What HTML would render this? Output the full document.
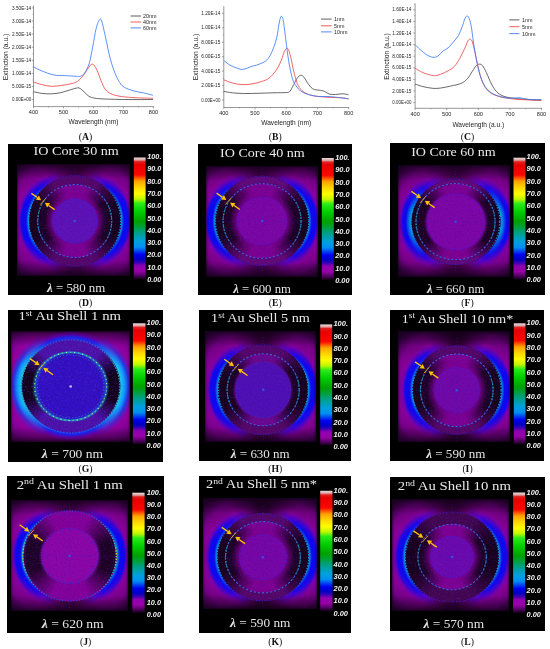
<!DOCTYPE html>
<html lang="en"><head><meta charset="utf-8"><title>Figure</title>
<style>
html,body{margin:0;padding:0;background:#fff}
#fig{position:relative;width:550px;height:649px;overflow:hidden;background:#fff;filter:blur(0.45px)}
.bk{position:absolute;background:#000}
.sq{position:absolute;overflow:hidden;background:#2a0034}
.ct{position:absolute;width:180px;height:180px;transform-origin:50% 50%}
.l{position:absolute;left:0;top:0;width:100%;height:100%}
.tbd{position:absolute;left:0;top:0;right:0;bottom:0;background:linear-gradient(to bottom,rgba(24,0,30,.8) 0,rgba(24,0,30,.45) 5px,rgba(24,0,30,0) 15px,rgba(24,0,30,0) calc(100% - 15px),rgba(24,0,30,.45) calc(100% - 5px),rgba(24,0,30,.8) 100%)}
.vg{position:absolute;left:0;top:0;right:0;bottom:0;box-shadow:inset 0 0 2px 1px rgba(20,0,26,.6)}
svg{position:absolute;left:0;top:0;display:block}
</style>
</head><body>
<div id="fig">
<div class="bk" style="left:7.5px;top:143.6px;width:155.6px;height:151.9px"></div>
<div class="sq" style="left:17.4px;top:164.4px;width:112.5px;height:111.5px">
<div class="ct" style="left:-32.7px;top:-33.4px;transform:scale(1.000,0.985)"><div class="l" style="background:radial-gradient(circle at 50% 50%,#90009f 0px,#90009f 55px,#7a008c 66px,#2a0034 79px);"></div></div>
<div class="tbd"></div>
<div class="ct" style="left:-32.7px;top:-33.4px;transform:scale(1.000,0.985)">
<div class="l" style="background:radial-gradient(circle at 50% 50%,rgba(24,0,32,0) 48px,rgba(24,0,32,0.28) 60px);-webkit-mask-image:conic-gradient(from 0deg at 50% 50%,rgba(0,0,0,1) 0deg,rgba(0,0,0,1) 15deg,rgba(0,0,0,0.5) 38.5deg,rgba(0,0,0,0) 62deg,rgba(0,0,0,0) 118deg,rgba(0,0,0,0.5) 141.5deg,rgba(0,0,0,1) 165deg,rgba(0,0,0,1) 195deg,rgba(0,0,0,0.5) 218.5deg,rgba(0,0,0,0) 242deg,rgba(0,0,0,0) 298deg,rgba(0,0,0,0.5) 321.5deg,rgba(0,0,0,1) 345deg,rgba(0,0,0,1) 360deg);mask-image:conic-gradient(from 0deg at 50% 50%,rgba(0,0,0,1) 0deg,rgba(0,0,0,1) 15deg,rgba(0,0,0,0.5) 38.5deg,rgba(0,0,0,0) 62deg,rgba(0,0,0,0) 118deg,rgba(0,0,0,0.5) 141.5deg,rgba(0,0,0,1) 165deg,rgba(0,0,0,1) 195deg,rgba(0,0,0,0.5) 218.5deg,rgba(0,0,0,0) 242deg,rgba(0,0,0,0) 298deg,rgba(0,0,0,0.5) 321.5deg,rgba(0,0,0,1) 345deg,rgba(0,0,0,1) 360deg);"></div>
<div class="l" style="background:radial-gradient(circle at 50% 50%,rgba(20,0,24,0.54) 44px,rgba(20,0,24,0.68) 54px,rgba(20,0,24,0.68) 76px);-webkit-mask-image:conic-gradient(from 0deg at 50% 50%,rgba(0,0,0,1) 0deg,rgba(0,0,0,1) 5deg,rgba(0,0,0,0.5) 18.5deg,rgba(0,0,0,0) 32deg,rgba(0,0,0,0) 148deg,rgba(0,0,0,0.5) 161.5deg,rgba(0,0,0,1) 175deg,rgba(0,0,0,1) 185deg,rgba(0,0,0,0.5) 198.5deg,rgba(0,0,0,0) 212deg,rgba(0,0,0,0) 328deg,rgba(0,0,0,0.5) 341.5deg,rgba(0,0,0,1) 355deg,rgba(0,0,0,1) 360deg);mask-image:conic-gradient(from 0deg at 50% 50%,rgba(0,0,0,1) 0deg,rgba(0,0,0,1) 5deg,rgba(0,0,0,0.5) 18.5deg,rgba(0,0,0,0) 32deg,rgba(0,0,0,0) 148deg,rgba(0,0,0,0.5) 161.5deg,rgba(0,0,0,1) 175deg,rgba(0,0,0,1) 185deg,rgba(0,0,0,0.5) 198.5deg,rgba(0,0,0,0) 212deg,rgba(0,0,0,0) 328deg,rgba(0,0,0,0.5) 341.5deg,rgba(0,0,0,1) 355deg,rgba(0,0,0,1) 360deg);"></div>
<div class="l" style="background:radial-gradient(circle at 50% 50%,rgba(14,8,238,0) 45px,rgba(14,8,238,0.95) 46.5px,rgba(14,8,238,0.9) 49.6px,rgba(88,0,192,0.35) 52.75px,rgba(88,0,192,0) 55.9px);-webkit-mask-image:conic-gradient(from 90deg at 50% 50%,rgba(0,0,0,1) 0deg,rgba(0,0,0,1) 40deg,rgba(0,0,0,0.5) 57deg,rgba(0,0,0,0) 74deg,rgba(0,0,0,0) 106deg,rgba(0,0,0,0.5) 123deg,rgba(0,0,0,1) 140deg,rgba(0,0,0,1) 220deg,rgba(0,0,0,0.5) 237deg,rgba(0,0,0,0) 254deg,rgba(0,0,0,0) 286deg,rgba(0,0,0,0.5) 303deg,rgba(0,0,0,1) 320deg,rgba(0,0,0,1) 360deg);mask-image:conic-gradient(from 90deg at 50% 50%,rgba(0,0,0,1) 0deg,rgba(0,0,0,1) 40deg,rgba(0,0,0,0.5) 57deg,rgba(0,0,0,0) 74deg,rgba(0,0,0,0) 106deg,rgba(0,0,0,0.5) 123deg,rgba(0,0,0,1) 140deg,rgba(0,0,0,1) 220deg,rgba(0,0,0,0.5) 237deg,rgba(0,0,0,0) 254deg,rgba(0,0,0,0) 286deg,rgba(0,0,0,0.5) 303deg,rgba(0,0,0,1) 320deg,rgba(0,0,0,1) 360deg);"></div>
<div class="l" style="background:radial-gradient(circle at 50% 50%,rgba(14,8,238,0) 45px,#0e08ee 46.5px,#0e08ee 53.2px,rgba(88,0,192,0.45) 56.08px,rgba(88,0,192,0) 59.5px);-webkit-mask-image:conic-gradient(from 90deg at 50% 50%,rgba(0,0,0,1) 0deg,rgba(0,0,0,1) 20deg,rgba(0,0,0,0.5) 39deg,rgba(0,0,0,0) 58deg,rgba(0,0,0,0) 122deg,rgba(0,0,0,0.5) 141deg,rgba(0,0,0,1) 160deg,rgba(0,0,0,1) 200deg,rgba(0,0,0,0.5) 219deg,rgba(0,0,0,0) 238deg,rgba(0,0,0,0) 302deg,rgba(0,0,0,0.5) 321deg,rgba(0,0,0,1) 340deg,rgba(0,0,0,1) 360deg);mask-image:conic-gradient(from 90deg at 50% 50%,rgba(0,0,0,1) 0deg,rgba(0,0,0,1) 20deg,rgba(0,0,0,0.5) 39deg,rgba(0,0,0,0) 58deg,rgba(0,0,0,0) 122deg,rgba(0,0,0,0.5) 141deg,rgba(0,0,0,1) 160deg,rgba(0,0,0,1) 200deg,rgba(0,0,0,0.5) 219deg,rgba(0,0,0,0) 238deg,rgba(0,0,0,0) 302deg,rgba(0,0,0,0.5) 321deg,rgba(0,0,0,1) 340deg,rgba(0,0,0,1) 360deg);"></div>
<div class="l" style="background:radial-gradient(circle at 50% 50%,rgba(0,164,216,0) 45.5px,rgba(0,164,216,0.85) 46.6px,rgba(0,164,216,0.51) 47.6px,rgba(0,164,216,0) 49px);-webkit-mask-image:conic-gradient(from 90deg at 50% 50%,rgba(0,0,0,1) 0deg,rgba(0,0,0,1) 14deg,rgba(0,0,0,0.5) 31deg,rgba(0,0,0,0) 48deg,rgba(0,0,0,0) 132deg,rgba(0,0,0,0.5) 149deg,rgba(0,0,0,1) 166deg,rgba(0,0,0,1) 194deg,rgba(0,0,0,0.5) 211deg,rgba(0,0,0,0) 228deg,rgba(0,0,0,0) 312deg,rgba(0,0,0,0.5) 329deg,rgba(0,0,0,1) 346deg,rgba(0,0,0,1) 360deg);mask-image:conic-gradient(from 90deg at 50% 50%,rgba(0,0,0,1) 0deg,rgba(0,0,0,1) 14deg,rgba(0,0,0,0.5) 31deg,rgba(0,0,0,0) 48deg,rgba(0,0,0,0) 132deg,rgba(0,0,0,0.5) 149deg,rgba(0,0,0,1) 166deg,rgba(0,0,0,1) 194deg,rgba(0,0,0,0.5) 211deg,rgba(0,0,0,0) 228deg,rgba(0,0,0,0) 312deg,rgba(0,0,0,0.5) 329deg,rgba(0,0,0,1) 346deg,rgba(0,0,0,1) 360deg);"></div>
<div class="l" style="background:radial-gradient(circle at 50% 50%,#7c0092 0px,#7c0092 45.5px,rgba(124,0,146,0) 46.5px);"></div>
<div class="l" style="background:radial-gradient(circle at 50% 50%,rgba(38,5,48,0) 36.5px,#260530 37.5px,#260530 45.5px,rgba(38,5,48,0) 46.5px);"></div>
<div class="l" style="background:radial-gradient(circle at 50% 50%,rgba(114,10,140,0) 36.8px,rgba(114,10,140,0.62) 37.8px,rgba(114,10,140,0.62) 45.2px,rgba(114,10,140,0) 46.2px);-webkit-mask-image:conic-gradient(from 0deg at 50% 50%,rgba(0,0,0,1) 0deg,rgba(0,0,0,1) 28deg,rgba(0,0,0,0.5) 50deg,rgba(0,0,0,0) 72deg,rgba(0,0,0,0) 108deg,rgba(0,0,0,0.5) 130deg,rgba(0,0,0,1) 152deg,rgba(0,0,0,1) 208deg,rgba(0,0,0,0.5) 230deg,rgba(0,0,0,0) 252deg,rgba(0,0,0,0) 288deg,rgba(0,0,0,0.5) 310deg,rgba(0,0,0,1) 332deg,rgba(0,0,0,1) 360deg);mask-image:conic-gradient(from 0deg at 50% 50%,rgba(0,0,0,1) 0deg,rgba(0,0,0,1) 28deg,rgba(0,0,0,0.5) 50deg,rgba(0,0,0,0) 72deg,rgba(0,0,0,0) 108deg,rgba(0,0,0,0.5) 130deg,rgba(0,0,0,1) 152deg,rgba(0,0,0,1) 208deg,rgba(0,0,0,0.5) 230deg,rgba(0,0,0,0) 252deg,rgba(0,0,0,0) 288deg,rgba(0,0,0,0.5) 310deg,rgba(0,0,0,1) 332deg,rgba(0,0,0,1) 360deg);"></div>
<div class="l" style="background:radial-gradient(circle at 50% 50%,rgba(14,0,18,0) 36.5px,rgba(14,0,18,0.6) 37.5px,rgba(14,0,18,0.6) 45.5px,rgba(14,0,18,0) 46.5px);-webkit-mask-image:conic-gradient(from 90deg at 50% 50%,rgba(0,0,0,1) 0deg,rgba(0,0,0,1) 22deg,rgba(0,0,0,0.5) 40deg,rgba(0,0,0,0) 58deg,rgba(0,0,0,0) 122deg,rgba(0,0,0,0.5) 140deg,rgba(0,0,0,1) 158deg,rgba(0,0,0,1) 202deg,rgba(0,0,0,0.5) 220deg,rgba(0,0,0,0) 238deg,rgba(0,0,0,0) 302deg,rgba(0,0,0,0.5) 320deg,rgba(0,0,0,1) 338deg,rgba(0,0,0,1) 360deg);mask-image:conic-gradient(from 90deg at 50% 50%,rgba(0,0,0,1) 0deg,rgba(0,0,0,1) 22deg,rgba(0,0,0,0.5) 40deg,rgba(0,0,0,0) 58deg,rgba(0,0,0,0) 122deg,rgba(0,0,0,0.5) 140deg,rgba(0,0,0,1) 158deg,rgba(0,0,0,1) 202deg,rgba(0,0,0,0.5) 220deg,rgba(0,0,0,0) 238deg,rgba(0,0,0,0) 302deg,rgba(0,0,0,0.5) 320deg,rgba(0,0,0,1) 338deg,rgba(0,0,0,1) 360deg);"></div>
<div class="l" style="background:radial-gradient(circle at 50% 50%,rgba(25,2,32,0) 22px,rgba(25,2,32,0.55) 26.5px,rgba(25,2,32,0.95) 30.5px,rgba(25,2,32,0.97) 36.5px,rgba(25,2,32,0) 37.5px);-webkit-mask-image:conic-gradient(from 90deg at 50% 50%,rgba(0,0,0,1) 0deg,rgba(0,0,0,1) 32deg,rgba(0,0,0,0.5) 52deg,rgba(0,0,0,0) 72deg,rgba(0,0,0,0) 108deg,rgba(0,0,0,0.5) 128deg,rgba(0,0,0,1) 148deg,rgba(0,0,0,1) 212deg,rgba(0,0,0,0.5) 232deg,rgba(0,0,0,0) 252deg,rgba(0,0,0,0) 288deg,rgba(0,0,0,0.5) 308deg,rgba(0,0,0,1) 328deg,rgba(0,0,0,1) 360deg);mask-image:conic-gradient(from 90deg at 50% 50%,rgba(0,0,0,1) 0deg,rgba(0,0,0,1) 32deg,rgba(0,0,0,0.5) 52deg,rgba(0,0,0,0) 72deg,rgba(0,0,0,0) 108deg,rgba(0,0,0,0.5) 128deg,rgba(0,0,0,1) 148deg,rgba(0,0,0,1) 212deg,rgba(0,0,0,0.5) 232deg,rgba(0,0,0,0) 252deg,rgba(0,0,0,0) 288deg,rgba(0,0,0,0.5) 308deg,rgba(0,0,0,1) 328deg,rgba(0,0,0,1) 360deg);"></div>
<div class="l" style="background:radial-gradient(circle at 50% 50%,#5c12b6 0px,#5c12b6 21.7px,rgba(92,18,182,0) 23.3px);"></div>
</div>
<div class="vg"></div>
</div>
<div class="bk" style="left:198px;top:144.2px;width:153.9px;height:151.1px"></div>
<div class="sq" style="left:206.3px;top:166px;width:111.5px;height:111.2px">
<div class="ct" style="left:-34.2px;top:-35px;transform:scale(1.000,0.958)"><div class="l" style="background:radial-gradient(circle at 50% 50%,#90009f 0px,#90009f 55.7px,#7a008c 66.7px,#2a0034 79.7px);"></div></div>
<div class="tbd"></div>
<div class="ct" style="left:-34.2px;top:-35px;transform:scale(1.000,0.958)">
<div class="l" style="background:radial-gradient(circle at 50% 50%,rgba(24,0,32,0) 48.7px,rgba(24,0,32,0.28) 60.7px);-webkit-mask-image:conic-gradient(from 0deg at 50% 50%,rgba(0,0,0,1) 0deg,rgba(0,0,0,1) 15deg,rgba(0,0,0,0.5) 38.5deg,rgba(0,0,0,0) 62deg,rgba(0,0,0,0) 118deg,rgba(0,0,0,0.5) 141.5deg,rgba(0,0,0,1) 165deg,rgba(0,0,0,1) 195deg,rgba(0,0,0,0.5) 218.5deg,rgba(0,0,0,0) 242deg,rgba(0,0,0,0) 298deg,rgba(0,0,0,0.5) 321.5deg,rgba(0,0,0,1) 345deg,rgba(0,0,0,1) 360deg);mask-image:conic-gradient(from 0deg at 50% 50%,rgba(0,0,0,1) 0deg,rgba(0,0,0,1) 15deg,rgba(0,0,0,0.5) 38.5deg,rgba(0,0,0,0) 62deg,rgba(0,0,0,0) 118deg,rgba(0,0,0,0.5) 141.5deg,rgba(0,0,0,1) 165deg,rgba(0,0,0,1) 195deg,rgba(0,0,0,0.5) 218.5deg,rgba(0,0,0,0) 242deg,rgba(0,0,0,0) 298deg,rgba(0,0,0,0.5) 321.5deg,rgba(0,0,0,1) 345deg,rgba(0,0,0,1) 360deg);"></div>
<div class="l" style="background:radial-gradient(circle at 50% 50%,rgba(20,0,24,0.54) 44.7px,rgba(20,0,24,0.68) 54.7px,rgba(20,0,24,0.68) 76.7px);-webkit-mask-image:conic-gradient(from 0deg at 50% 50%,rgba(0,0,0,1) 0deg,rgba(0,0,0,1) 5deg,rgba(0,0,0,0.5) 18.5deg,rgba(0,0,0,0) 32deg,rgba(0,0,0,0) 148deg,rgba(0,0,0,0.5) 161.5deg,rgba(0,0,0,1) 175deg,rgba(0,0,0,1) 185deg,rgba(0,0,0,0.5) 198.5deg,rgba(0,0,0,0) 212deg,rgba(0,0,0,0) 328deg,rgba(0,0,0,0.5) 341.5deg,rgba(0,0,0,1) 355deg,rgba(0,0,0,1) 360deg);mask-image:conic-gradient(from 0deg at 50% 50%,rgba(0,0,0,1) 0deg,rgba(0,0,0,1) 5deg,rgba(0,0,0,0.5) 18.5deg,rgba(0,0,0,0) 32deg,rgba(0,0,0,0) 148deg,rgba(0,0,0,0.5) 161.5deg,rgba(0,0,0,1) 175deg,rgba(0,0,0,1) 185deg,rgba(0,0,0,0.5) 198.5deg,rgba(0,0,0,0) 212deg,rgba(0,0,0,0) 328deg,rgba(0,0,0,0.5) 341.5deg,rgba(0,0,0,1) 355deg,rgba(0,0,0,1) 360deg);"></div>
<div class="l" style="background:radial-gradient(circle at 50% 50%,rgba(14,8,238,0) 45.7px,rgba(14,8,238,0.95) 47.2px,rgba(14,8,238,0.9) 50.3px,rgba(88,0,192,0.35) 53.45px,rgba(88,0,192,0) 56.6px);-webkit-mask-image:conic-gradient(from 90deg at 50% 50%,rgba(0,0,0,1) 0deg,rgba(0,0,0,1) 40deg,rgba(0,0,0,0.5) 57deg,rgba(0,0,0,0) 74deg,rgba(0,0,0,0) 106deg,rgba(0,0,0,0.5) 123deg,rgba(0,0,0,1) 140deg,rgba(0,0,0,1) 220deg,rgba(0,0,0,0.5) 237deg,rgba(0,0,0,0) 254deg,rgba(0,0,0,0) 286deg,rgba(0,0,0,0.5) 303deg,rgba(0,0,0,1) 320deg,rgba(0,0,0,1) 360deg);mask-image:conic-gradient(from 90deg at 50% 50%,rgba(0,0,0,1) 0deg,rgba(0,0,0,1) 40deg,rgba(0,0,0,0.5) 57deg,rgba(0,0,0,0) 74deg,rgba(0,0,0,0) 106deg,rgba(0,0,0,0.5) 123deg,rgba(0,0,0,1) 140deg,rgba(0,0,0,1) 220deg,rgba(0,0,0,0.5) 237deg,rgba(0,0,0,0) 254deg,rgba(0,0,0,0) 286deg,rgba(0,0,0,0.5) 303deg,rgba(0,0,0,1) 320deg,rgba(0,0,0,1) 360deg);"></div>
<div class="l" style="background:radial-gradient(circle at 50% 50%,rgba(14,8,238,0) 45.7px,#0e08ee 47.2px,#0e08ee 53.9px,rgba(88,0,192,0.45) 56.78px,rgba(88,0,192,0) 60.2px);-webkit-mask-image:conic-gradient(from 90deg at 50% 50%,rgba(0,0,0,1) 0deg,rgba(0,0,0,1) 20deg,rgba(0,0,0,0.5) 39deg,rgba(0,0,0,0) 58deg,rgba(0,0,0,0) 122deg,rgba(0,0,0,0.5) 141deg,rgba(0,0,0,1) 160deg,rgba(0,0,0,1) 200deg,rgba(0,0,0,0.5) 219deg,rgba(0,0,0,0) 238deg,rgba(0,0,0,0) 302deg,rgba(0,0,0,0.5) 321deg,rgba(0,0,0,1) 340deg,rgba(0,0,0,1) 360deg);mask-image:conic-gradient(from 90deg at 50% 50%,rgba(0,0,0,1) 0deg,rgba(0,0,0,1) 20deg,rgba(0,0,0,0.5) 39deg,rgba(0,0,0,0) 58deg,rgba(0,0,0,0) 122deg,rgba(0,0,0,0.5) 141deg,rgba(0,0,0,1) 160deg,rgba(0,0,0,1) 200deg,rgba(0,0,0,0.5) 219deg,rgba(0,0,0,0) 238deg,rgba(0,0,0,0) 302deg,rgba(0,0,0,0.5) 321deg,rgba(0,0,0,1) 340deg,rgba(0,0,0,1) 360deg);"></div>
<div class="l" style="background:radial-gradient(circle at 50% 50%,rgba(0,164,216,0) 46.2px,rgba(0,164,216,0.85) 47.3px,rgba(0,164,216,0.51) 48.3px,rgba(0,164,216,0) 49.7px);-webkit-mask-image:conic-gradient(from 90deg at 50% 50%,rgba(0,0,0,1) 0deg,rgba(0,0,0,1) 14deg,rgba(0,0,0,0.5) 31deg,rgba(0,0,0,0) 48deg,rgba(0,0,0,0) 132deg,rgba(0,0,0,0.5) 149deg,rgba(0,0,0,1) 166deg,rgba(0,0,0,1) 194deg,rgba(0,0,0,0.5) 211deg,rgba(0,0,0,0) 228deg,rgba(0,0,0,0) 312deg,rgba(0,0,0,0.5) 329deg,rgba(0,0,0,1) 346deg,rgba(0,0,0,1) 360deg);mask-image:conic-gradient(from 90deg at 50% 50%,rgba(0,0,0,1) 0deg,rgba(0,0,0,1) 14deg,rgba(0,0,0,0.5) 31deg,rgba(0,0,0,0) 48deg,rgba(0,0,0,0) 132deg,rgba(0,0,0,0.5) 149deg,rgba(0,0,0,1) 166deg,rgba(0,0,0,1) 194deg,rgba(0,0,0,0.5) 211deg,rgba(0,0,0,0) 228deg,rgba(0,0,0,0) 312deg,rgba(0,0,0,0.5) 329deg,rgba(0,0,0,1) 346deg,rgba(0,0,0,1) 360deg);"></div>
<div class="l" style="background:radial-gradient(circle at 50% 50%,#7c0092 0px,#7c0092 46.2px,rgba(124,0,146,0) 47.2px);"></div>
<div class="l" style="background:radial-gradient(circle at 50% 50%,rgba(38,5,48,0) 38.5px,#260530 39.5px,#260530 46.2px,rgba(38,5,48,0) 47.2px);"></div>
<div class="l" style="background:radial-gradient(circle at 50% 50%,rgba(114,10,140,0) 38.8px,rgba(114,10,140,0.8) 39.8px,rgba(114,10,140,0.8) 45.9px,rgba(114,10,140,0) 46.9px);-webkit-mask-image:conic-gradient(from 0deg at 50% 50%,rgba(0,0,0,1) 0deg,rgba(0,0,0,1) 28deg,rgba(0,0,0,0.5) 50deg,rgba(0,0,0,0) 72deg,rgba(0,0,0,0) 108deg,rgba(0,0,0,0.5) 130deg,rgba(0,0,0,1) 152deg,rgba(0,0,0,1) 208deg,rgba(0,0,0,0.5) 230deg,rgba(0,0,0,0) 252deg,rgba(0,0,0,0) 288deg,rgba(0,0,0,0.5) 310deg,rgba(0,0,0,1) 332deg,rgba(0,0,0,1) 360deg);mask-image:conic-gradient(from 0deg at 50% 50%,rgba(0,0,0,1) 0deg,rgba(0,0,0,1) 28deg,rgba(0,0,0,0.5) 50deg,rgba(0,0,0,0) 72deg,rgba(0,0,0,0) 108deg,rgba(0,0,0,0.5) 130deg,rgba(0,0,0,1) 152deg,rgba(0,0,0,1) 208deg,rgba(0,0,0,0.5) 230deg,rgba(0,0,0,0) 252deg,rgba(0,0,0,0) 288deg,rgba(0,0,0,0.5) 310deg,rgba(0,0,0,1) 332deg,rgba(0,0,0,1) 360deg);"></div>
<div class="l" style="background:radial-gradient(circle at 50% 50%,rgba(14,0,18,0) 38.5px,rgba(14,0,18,0.6) 39.5px,rgba(14,0,18,0.6) 46.2px,rgba(14,0,18,0) 47.2px);-webkit-mask-image:conic-gradient(from 90deg at 50% 50%,rgba(0,0,0,1) 0deg,rgba(0,0,0,1) 22deg,rgba(0,0,0,0.5) 40deg,rgba(0,0,0,0) 58deg,rgba(0,0,0,0) 122deg,rgba(0,0,0,0.5) 140deg,rgba(0,0,0,1) 158deg,rgba(0,0,0,1) 202deg,rgba(0,0,0,0.5) 220deg,rgba(0,0,0,0) 238deg,rgba(0,0,0,0) 302deg,rgba(0,0,0,0.5) 320deg,rgba(0,0,0,1) 338deg,rgba(0,0,0,1) 360deg);mask-image:conic-gradient(from 90deg at 50% 50%,rgba(0,0,0,1) 0deg,rgba(0,0,0,1) 22deg,rgba(0,0,0,0.5) 40deg,rgba(0,0,0,0) 58deg,rgba(0,0,0,0) 122deg,rgba(0,0,0,0.5) 140deg,rgba(0,0,0,1) 158deg,rgba(0,0,0,1) 202deg,rgba(0,0,0,0.5) 220deg,rgba(0,0,0,0) 238deg,rgba(0,0,0,0) 302deg,rgba(0,0,0,0.5) 320deg,rgba(0,0,0,1) 338deg,rgba(0,0,0,1) 360deg);"></div>
<div class="l" style="background:radial-gradient(circle at 50% 50%,rgba(25,2,32,0) 24.3px,rgba(25,2,32,0.55) 28.8px,rgba(25,2,32,0.95) 32.8px,rgba(25,2,32,0.97) 38.5px,rgba(25,2,32,0) 39.5px);-webkit-mask-image:conic-gradient(from 90deg at 50% 50%,rgba(0,0,0,1) 0deg,rgba(0,0,0,1) 32deg,rgba(0,0,0,0.5) 52deg,rgba(0,0,0,0) 72deg,rgba(0,0,0,0) 108deg,rgba(0,0,0,0.5) 128deg,rgba(0,0,0,1) 148deg,rgba(0,0,0,1) 212deg,rgba(0,0,0,0.5) 232deg,rgba(0,0,0,0) 252deg,rgba(0,0,0,0) 288deg,rgba(0,0,0,0.5) 308deg,rgba(0,0,0,1) 328deg,rgba(0,0,0,1) 360deg);mask-image:conic-gradient(from 90deg at 50% 50%,rgba(0,0,0,1) 0deg,rgba(0,0,0,1) 32deg,rgba(0,0,0,0.5) 52deg,rgba(0,0,0,0) 72deg,rgba(0,0,0,0) 108deg,rgba(0,0,0,0.5) 128deg,rgba(0,0,0,1) 148deg,rgba(0,0,0,1) 212deg,rgba(0,0,0,0.5) 232deg,rgba(0,0,0,0) 252deg,rgba(0,0,0,0) 288deg,rgba(0,0,0,0.5) 308deg,rgba(0,0,0,1) 328deg,rgba(0,0,0,1) 360deg);"></div>
<div class="l" style="background:radial-gradient(circle at 50% 50%,#7a06a4 0px,#7a06a4 24px,rgba(122,6,164,0) 25.6px);"></div>
</div>
<div class="vg"></div>
</div>
<div class="bk" style="left:389.5px;top:143.4px;width:155.5px;height:151.2px"></div>
<div class="sq" style="left:397.6px;top:165.2px;width:112px;height:111.4px">
<div class="ct" style="left:-32.1px;top:-33.5px;transform:scale(1.000,0.965)"><div class="l" style="background:radial-gradient(circle at 50% 50%,#90009f 0px,#90009f 53.4px,#7a008c 64.4px,#2a0034 77.4px);"></div></div>
<div class="tbd"></div>
<div class="ct" style="left:-32.1px;top:-33.5px;transform:scale(1.000,0.965)">
<div class="l" style="background:radial-gradient(circle at 50% 50%,rgba(24,0,32,0) 46.4px,rgba(24,0,32,0.28) 58.4px);-webkit-mask-image:conic-gradient(from 0deg at 50% 50%,rgba(0,0,0,1) 0deg,rgba(0,0,0,1) 15deg,rgba(0,0,0,0.5) 38.5deg,rgba(0,0,0,0) 62deg,rgba(0,0,0,0) 118deg,rgba(0,0,0,0.5) 141.5deg,rgba(0,0,0,1) 165deg,rgba(0,0,0,1) 195deg,rgba(0,0,0,0.5) 218.5deg,rgba(0,0,0,0) 242deg,rgba(0,0,0,0) 298deg,rgba(0,0,0,0.5) 321.5deg,rgba(0,0,0,1) 345deg,rgba(0,0,0,1) 360deg);mask-image:conic-gradient(from 0deg at 50% 50%,rgba(0,0,0,1) 0deg,rgba(0,0,0,1) 15deg,rgba(0,0,0,0.5) 38.5deg,rgba(0,0,0,0) 62deg,rgba(0,0,0,0) 118deg,rgba(0,0,0,0.5) 141.5deg,rgba(0,0,0,1) 165deg,rgba(0,0,0,1) 195deg,rgba(0,0,0,0.5) 218.5deg,rgba(0,0,0,0) 242deg,rgba(0,0,0,0) 298deg,rgba(0,0,0,0.5) 321.5deg,rgba(0,0,0,1) 345deg,rgba(0,0,0,1) 360deg);"></div>
<div class="l" style="background:radial-gradient(circle at 50% 50%,rgba(20,0,24,0.54) 42.4px,rgba(20,0,24,0.68) 52.4px,rgba(20,0,24,0.68) 74.4px);-webkit-mask-image:conic-gradient(from 0deg at 50% 50%,rgba(0,0,0,1) 0deg,rgba(0,0,0,1) 5deg,rgba(0,0,0,0.5) 18.5deg,rgba(0,0,0,0) 32deg,rgba(0,0,0,0) 148deg,rgba(0,0,0,0.5) 161.5deg,rgba(0,0,0,1) 175deg,rgba(0,0,0,1) 185deg,rgba(0,0,0,0.5) 198.5deg,rgba(0,0,0,0) 212deg,rgba(0,0,0,0) 328deg,rgba(0,0,0,0.5) 341.5deg,rgba(0,0,0,1) 355deg,rgba(0,0,0,1) 360deg);mask-image:conic-gradient(from 0deg at 50% 50%,rgba(0,0,0,1) 0deg,rgba(0,0,0,1) 5deg,rgba(0,0,0,0.5) 18.5deg,rgba(0,0,0,0) 32deg,rgba(0,0,0,0) 148deg,rgba(0,0,0,0.5) 161.5deg,rgba(0,0,0,1) 175deg,rgba(0,0,0,1) 185deg,rgba(0,0,0,0.5) 198.5deg,rgba(0,0,0,0) 212deg,rgba(0,0,0,0) 328deg,rgba(0,0,0,0.5) 341.5deg,rgba(0,0,0,1) 355deg,rgba(0,0,0,1) 360deg);"></div>
<div class="l" style="background:radial-gradient(circle at 50% 50%,rgba(14,8,238,0) 43.4px,rgba(14,8,238,0.95) 44.9px,rgba(14,8,238,0.9) 48.6px,rgba(88,0,192,0.35) 52.27px,rgba(88,0,192,0) 55.95px);-webkit-mask-image:conic-gradient(from 90deg at 50% 50%,rgba(0,0,0,1) 0deg,rgba(0,0,0,1) 40deg,rgba(0,0,0,0.5) 57deg,rgba(0,0,0,0) 74deg,rgba(0,0,0,0) 106deg,rgba(0,0,0,0.5) 123deg,rgba(0,0,0,1) 140deg,rgba(0,0,0,1) 220deg,rgba(0,0,0,0.5) 237deg,rgba(0,0,0,0) 254deg,rgba(0,0,0,0) 286deg,rgba(0,0,0,0.5) 303deg,rgba(0,0,0,1) 320deg,rgba(0,0,0,1) 360deg);mask-image:conic-gradient(from 90deg at 50% 50%,rgba(0,0,0,1) 0deg,rgba(0,0,0,1) 40deg,rgba(0,0,0,0.5) 57deg,rgba(0,0,0,0) 74deg,rgba(0,0,0,0) 106deg,rgba(0,0,0,0.5) 123deg,rgba(0,0,0,1) 140deg,rgba(0,0,0,1) 220deg,rgba(0,0,0,0.5) 237deg,rgba(0,0,0,0) 254deg,rgba(0,0,0,0) 286deg,rgba(0,0,0,0.5) 303deg,rgba(0,0,0,1) 320deg,rgba(0,0,0,1) 360deg);"></div>
<div class="l" style="background:radial-gradient(circle at 50% 50%,rgba(14,8,238,0) 43.4px,#0e08ee 44.9px,#0e08ee 52.8px,rgba(88,0,192,0.45) 56.16px,rgba(88,0,192,0) 60.15px);-webkit-mask-image:conic-gradient(from 90deg at 50% 50%,rgba(0,0,0,1) 0deg,rgba(0,0,0,1) 20deg,rgba(0,0,0,0.5) 39deg,rgba(0,0,0,0) 58deg,rgba(0,0,0,0) 122deg,rgba(0,0,0,0.5) 141deg,rgba(0,0,0,1) 160deg,rgba(0,0,0,1) 200deg,rgba(0,0,0,0.5) 219deg,rgba(0,0,0,0) 238deg,rgba(0,0,0,0) 302deg,rgba(0,0,0,0.5) 321deg,rgba(0,0,0,1) 340deg,rgba(0,0,0,1) 360deg);mask-image:conic-gradient(from 90deg at 50% 50%,rgba(0,0,0,1) 0deg,rgba(0,0,0,1) 20deg,rgba(0,0,0,0.5) 39deg,rgba(0,0,0,0) 58deg,rgba(0,0,0,0) 122deg,rgba(0,0,0,0.5) 141deg,rgba(0,0,0,1) 160deg,rgba(0,0,0,1) 200deg,rgba(0,0,0,0.5) 219deg,rgba(0,0,0,0) 238deg,rgba(0,0,0,0) 302deg,rgba(0,0,0,0.5) 321deg,rgba(0,0,0,1) 340deg,rgba(0,0,0,1) 360deg);"></div>
<div class="l" style="background:radial-gradient(circle at 50% 50%,rgba(0,164,216,0) 43.9px,#00a4d8 45px,rgba(0,164,216,0.6) 47.6px,rgba(0,164,216,0) 50.4px);-webkit-mask-image:conic-gradient(from 90deg at 50% 50%,rgba(0,0,0,1) 0deg,rgba(0,0,0,1) 14deg,rgba(0,0,0,0.5) 31deg,rgba(0,0,0,0) 48deg,rgba(0,0,0,0) 132deg,rgba(0,0,0,0.5) 149deg,rgba(0,0,0,1) 166deg,rgba(0,0,0,1) 194deg,rgba(0,0,0,0.5) 211deg,rgba(0,0,0,0) 228deg,rgba(0,0,0,0) 312deg,rgba(0,0,0,0.5) 329deg,rgba(0,0,0,1) 346deg,rgba(0,0,0,1) 360deg);mask-image:conic-gradient(from 90deg at 50% 50%,rgba(0,0,0,1) 0deg,rgba(0,0,0,1) 14deg,rgba(0,0,0,0.5) 31deg,rgba(0,0,0,0) 48deg,rgba(0,0,0,0) 132deg,rgba(0,0,0,0.5) 149deg,rgba(0,0,0,1) 166deg,rgba(0,0,0,1) 194deg,rgba(0,0,0,0.5) 211deg,rgba(0,0,0,0) 228deg,rgba(0,0,0,0) 312deg,rgba(0,0,0,0.5) 329deg,rgba(0,0,0,1) 346deg,rgba(0,0,0,1) 360deg);"></div>
<div class="l" style="background:radial-gradient(circle at 50% 50%,#7c0092 0px,#7c0092 43.9px,rgba(124,0,146,0) 44.9px);"></div>
<div class="l" style="background:radial-gradient(circle at 50% 50%,rgba(38,5,48,0) 39px,#260530 40px,#260530 43.9px,rgba(38,5,48,0) 44.9px);"></div>
<div class="l" style="background:radial-gradient(circle at 50% 50%,rgba(114,10,140,0) 39.3px,rgba(114,10,140,0.8) 40.3px,rgba(114,10,140,0.8) 43.6px,rgba(114,10,140,0) 44.6px);-webkit-mask-image:conic-gradient(from 0deg at 50% 50%,rgba(0,0,0,1) 0deg,rgba(0,0,0,1) 28deg,rgba(0,0,0,0.5) 50deg,rgba(0,0,0,0) 72deg,rgba(0,0,0,0) 108deg,rgba(0,0,0,0.5) 130deg,rgba(0,0,0,1) 152deg,rgba(0,0,0,1) 208deg,rgba(0,0,0,0.5) 230deg,rgba(0,0,0,0) 252deg,rgba(0,0,0,0) 288deg,rgba(0,0,0,0.5) 310deg,rgba(0,0,0,1) 332deg,rgba(0,0,0,1) 360deg);mask-image:conic-gradient(from 0deg at 50% 50%,rgba(0,0,0,1) 0deg,rgba(0,0,0,1) 28deg,rgba(0,0,0,0.5) 50deg,rgba(0,0,0,0) 72deg,rgba(0,0,0,0) 108deg,rgba(0,0,0,0.5) 130deg,rgba(0,0,0,1) 152deg,rgba(0,0,0,1) 208deg,rgba(0,0,0,0.5) 230deg,rgba(0,0,0,0) 252deg,rgba(0,0,0,0) 288deg,rgba(0,0,0,0.5) 310deg,rgba(0,0,0,1) 332deg,rgba(0,0,0,1) 360deg);"></div>
<div class="l" style="background:radial-gradient(circle at 50% 50%,rgba(14,0,18,0) 39px,rgba(14,0,18,0.6) 40px,rgba(14,0,18,0.6) 43.9px,rgba(14,0,18,0) 44.9px);-webkit-mask-image:conic-gradient(from 90deg at 50% 50%,rgba(0,0,0,1) 0deg,rgba(0,0,0,1) 22deg,rgba(0,0,0,0.5) 40deg,rgba(0,0,0,0) 58deg,rgba(0,0,0,0) 122deg,rgba(0,0,0,0.5) 140deg,rgba(0,0,0,1) 158deg,rgba(0,0,0,1) 202deg,rgba(0,0,0,0.5) 220deg,rgba(0,0,0,0) 238deg,rgba(0,0,0,0) 302deg,rgba(0,0,0,0.5) 320deg,rgba(0,0,0,1) 338deg,rgba(0,0,0,1) 360deg);mask-image:conic-gradient(from 90deg at 50% 50%,rgba(0,0,0,1) 0deg,rgba(0,0,0,1) 22deg,rgba(0,0,0,0.5) 40deg,rgba(0,0,0,0) 58deg,rgba(0,0,0,0) 122deg,rgba(0,0,0,0.5) 140deg,rgba(0,0,0,1) 158deg,rgba(0,0,0,1) 202deg,rgba(0,0,0,0.5) 220deg,rgba(0,0,0,0) 238deg,rgba(0,0,0,0) 302deg,rgba(0,0,0,0.5) 320deg,rgba(0,0,0,1) 338deg,rgba(0,0,0,1) 360deg);"></div>
<div class="l" style="background:radial-gradient(circle at 50% 50%,rgba(25,2,32,0) 28.5px,rgba(25,2,32,0.55) 30.5px,rgba(25,2,32,0.95) 32px,rgba(25,2,32,0.97) 39px,rgba(25,2,32,0) 40px);-webkit-mask-image:conic-gradient(from 90deg at 50% 50%,rgba(0,0,0,1) 0deg,rgba(0,0,0,1) 35deg,rgba(0,0,0,0.5) 53.5deg,rgba(0,0,0,0) 72deg,rgba(0,0,0,0) 108deg,rgba(0,0,0,0.5) 126.5deg,rgba(0,0,0,1) 145deg,rgba(0,0,0,1) 215deg,rgba(0,0,0,0.5) 233.5deg,rgba(0,0,0,0) 252deg,rgba(0,0,0,0) 288deg,rgba(0,0,0,0.5) 306.5deg,rgba(0,0,0,1) 325deg,rgba(0,0,0,1) 360deg);mask-image:conic-gradient(from 90deg at 50% 50%,rgba(0,0,0,1) 0deg,rgba(0,0,0,1) 35deg,rgba(0,0,0,0.5) 53.5deg,rgba(0,0,0,0) 72deg,rgba(0,0,0,0) 108deg,rgba(0,0,0,0.5) 126.5deg,rgba(0,0,0,1) 145deg,rgba(0,0,0,1) 215deg,rgba(0,0,0,0.5) 233.5deg,rgba(0,0,0,0) 252deg,rgba(0,0,0,0) 288deg,rgba(0,0,0,0.5) 306.5deg,rgba(0,0,0,1) 325deg,rgba(0,0,0,1) 360deg);"></div>
<div class="l" style="background:radial-gradient(circle at 50% 50%,#7c06a6 0px,#7c06a6 28.2px,rgba(124,6,166,0) 29.8px);"></div>
</div>
<div class="vg"></div>
</div>
<div class="bk" style="left:7.5px;top:310px;width:155.6px;height:151.5px"></div>
<div class="sq" style="left:10.9px;top:330.6px;width:118.7px;height:111.3px">
<div class="ct" style="left:-30.2px;top:-34.2px;transform:scale(1.030,0.975)"><div class="l" style="background:radial-gradient(circle at 50% 50%,#90009f 0px,#90009f 61.8px,#7a008c 71.8px,#3a0046 83.8px);"></div></div>
<div class="tbd"></div>
<div class="ct" style="left:-30.2px;top:-34.2px;transform:scale(1.030,0.975)">
<div class="l" style="background:radial-gradient(circle at 50% 50%,rgba(20,40,238,0) 46.8px,rgba(26,48,240,0.95) 48.3px,rgba(26,32,238,0.9) 50.3px,rgba(90,0,208,0.5) 52.8px,rgba(106,0,200,0) 56.8px);"></div>
<div class="l" style="background:radial-gradient(circle at 50% 50%,rgba(0,168,224,0) 46.8px,#20c4f0 48.3px,#1098f8 52px,rgba(16,64,240,0.8) 55.8px,rgba(64,16,224,0) 60.3px);-webkit-mask-image:conic-gradient(from 90deg at 50% 50%,rgba(0,0,0,1) 0deg,rgba(0,0,0,1) 24deg,rgba(0,0,0,0.5) 44deg,rgba(0,0,0,0) 64deg,rgba(0,0,0,0) 116deg,rgba(0,0,0,0.5) 136deg,rgba(0,0,0,1) 156deg,rgba(0,0,0,1) 204deg,rgba(0,0,0,0.5) 224deg,rgba(0,0,0,0) 244deg,rgba(0,0,0,0) 296deg,rgba(0,0,0,0.5) 316deg,rgba(0,0,0,1) 336deg,rgba(0,0,0,1) 360deg);mask-image:conic-gradient(from 90deg at 50% 50%,rgba(0,0,0,1) 0deg,rgba(0,0,0,1) 24deg,rgba(0,0,0,0.5) 44deg,rgba(0,0,0,0) 64deg,rgba(0,0,0,0) 116deg,rgba(0,0,0,0.5) 136deg,rgba(0,0,0,1) 156deg,rgba(0,0,0,1) 204deg,rgba(0,0,0,0.5) 224deg,rgba(0,0,0,0) 244deg,rgba(0,0,0,0) 296deg,rgba(0,0,0,0.5) 316deg,rgba(0,0,0,1) 336deg,rgba(0,0,0,1) 360deg);"></div>
<div class="l" style="background:radial-gradient(circle at 50% 50%,#4c12aa 0px,#4c12aa 47.3px,rgba(76,18,170,0) 48.3px);"></div>
<div class="l" style="background:radial-gradient(circle at 50% 50%,rgba(18,2,26,0) 34.5px,#12021a 35.5px,#12021a 47.3px,rgba(18,2,26,0) 48.3px);-webkit-mask-image:conic-gradient(from 90deg at 50% 50%,rgba(0,0,0,1) 0deg,rgba(0,0,0,1) 18deg,rgba(0,0,0,0.5) 34deg,rgba(0,0,0,0) 50deg,rgba(0,0,0,0) 130deg,rgba(0,0,0,0.5) 146deg,rgba(0,0,0,1) 162deg,rgba(0,0,0,1) 198deg,rgba(0,0,0,0.5) 214deg,rgba(0,0,0,0) 230deg,rgba(0,0,0,0) 310deg,rgba(0,0,0,0.5) 326deg,rgba(0,0,0,1) 342deg,rgba(0,0,0,1) 360deg);mask-image:conic-gradient(from 90deg at 50% 50%,rgba(0,0,0,1) 0deg,rgba(0,0,0,1) 18deg,rgba(0,0,0,0.5) 34deg,rgba(0,0,0,0) 50deg,rgba(0,0,0,0) 130deg,rgba(0,0,0,0.5) 146deg,rgba(0,0,0,1) 162deg,rgba(0,0,0,1) 198deg,rgba(0,0,0,0.5) 214deg,rgba(0,0,0,0) 230deg,rgba(0,0,0,0) 310deg,rgba(0,0,0,0.5) 326deg,rgba(0,0,0,1) 342deg,rgba(0,0,0,1) 360deg);"></div>
<div class="l" style="background:radial-gradient(circle at 50% 50%,#3210c4 0px,#3210c4 34.5px,rgba(50,16,196,0) 35.5px);"></div>
</div>
<div class="vg"></div>
</div>
<div class="bk" style="left:199.4px;top:309.7px;width:151.7px;height:151.8px"></div>
<div class="sq" style="left:205px;top:331.4px;width:111.3px;height:110.8px">
<div class="ct" style="left:-31.8px;top:-31.6px;transform:scale(1.000,1.000)"><div class="l" style="background:radial-gradient(circle at 50% 50%,#90009f 0px,#90009f 54px,#7a008c 65px,#2a0034 78px);"></div></div>
<div class="tbd"></div>
<div class="ct" style="left:-31.8px;top:-31.6px;transform:scale(1.000,1.000)">
<div class="l" style="background:radial-gradient(circle at 50% 50%,rgba(24,0,32,0) 47px,rgba(24,0,32,0.28) 59px);-webkit-mask-image:conic-gradient(from 0deg at 50% 50%,rgba(0,0,0,1) 0deg,rgba(0,0,0,1) 15deg,rgba(0,0,0,0.5) 38.5deg,rgba(0,0,0,0) 62deg,rgba(0,0,0,0) 118deg,rgba(0,0,0,0.5) 141.5deg,rgba(0,0,0,1) 165deg,rgba(0,0,0,1) 195deg,rgba(0,0,0,0.5) 218.5deg,rgba(0,0,0,0) 242deg,rgba(0,0,0,0) 298deg,rgba(0,0,0,0.5) 321.5deg,rgba(0,0,0,1) 345deg,rgba(0,0,0,1) 360deg);mask-image:conic-gradient(from 0deg at 50% 50%,rgba(0,0,0,1) 0deg,rgba(0,0,0,1) 15deg,rgba(0,0,0,0.5) 38.5deg,rgba(0,0,0,0) 62deg,rgba(0,0,0,0) 118deg,rgba(0,0,0,0.5) 141.5deg,rgba(0,0,0,1) 165deg,rgba(0,0,0,1) 195deg,rgba(0,0,0,0.5) 218.5deg,rgba(0,0,0,0) 242deg,rgba(0,0,0,0) 298deg,rgba(0,0,0,0.5) 321.5deg,rgba(0,0,0,1) 345deg,rgba(0,0,0,1) 360deg);"></div>
<div class="l" style="background:radial-gradient(circle at 50% 50%,rgba(20,0,24,0.64) 43px,rgba(20,0,24,0.8) 53px,rgba(20,0,24,0.8) 75px);-webkit-mask-image:conic-gradient(from 0deg at 50% 50%,rgba(0,0,0,1) 0deg,rgba(0,0,0,1) 5deg,rgba(0,0,0,0.5) 18.5deg,rgba(0,0,0,0) 32deg,rgba(0,0,0,0) 148deg,rgba(0,0,0,0.5) 161.5deg,rgba(0,0,0,1) 175deg,rgba(0,0,0,1) 185deg,rgba(0,0,0,0.5) 198.5deg,rgba(0,0,0,0) 212deg,rgba(0,0,0,0) 328deg,rgba(0,0,0,0.5) 341.5deg,rgba(0,0,0,1) 355deg,rgba(0,0,0,1) 360deg);mask-image:conic-gradient(from 0deg at 50% 50%,rgba(0,0,0,1) 0deg,rgba(0,0,0,1) 5deg,rgba(0,0,0,0.5) 18.5deg,rgba(0,0,0,0) 32deg,rgba(0,0,0,0) 148deg,rgba(0,0,0,0.5) 161.5deg,rgba(0,0,0,1) 175deg,rgba(0,0,0,1) 185deg,rgba(0,0,0,0.5) 198.5deg,rgba(0,0,0,0) 212deg,rgba(0,0,0,0) 328deg,rgba(0,0,0,0.5) 341.5deg,rgba(0,0,0,1) 355deg,rgba(0,0,0,1) 360deg);"></div>
<div class="l" style="background:radial-gradient(circle at 50% 50%,rgba(14,8,238,0) 44px,rgba(14,8,238,0.95) 45.5px,rgba(14,8,238,0.9) 48.6px,rgba(88,0,192,0.35) 51.75px,rgba(88,0,192,0) 54.9px);-webkit-mask-image:conic-gradient(from 90deg at 50% 50%,rgba(0,0,0,1) 0deg,rgba(0,0,0,1) 40deg,rgba(0,0,0,0.5) 57deg,rgba(0,0,0,0) 74deg,rgba(0,0,0,0) 106deg,rgba(0,0,0,0.5) 123deg,rgba(0,0,0,1) 140deg,rgba(0,0,0,1) 220deg,rgba(0,0,0,0.5) 237deg,rgba(0,0,0,0) 254deg,rgba(0,0,0,0) 286deg,rgba(0,0,0,0.5) 303deg,rgba(0,0,0,1) 320deg,rgba(0,0,0,1) 360deg);mask-image:conic-gradient(from 90deg at 50% 50%,rgba(0,0,0,1) 0deg,rgba(0,0,0,1) 40deg,rgba(0,0,0,0.5) 57deg,rgba(0,0,0,0) 74deg,rgba(0,0,0,0) 106deg,rgba(0,0,0,0.5) 123deg,rgba(0,0,0,1) 140deg,rgba(0,0,0,1) 220deg,rgba(0,0,0,0.5) 237deg,rgba(0,0,0,0) 254deg,rgba(0,0,0,0) 286deg,rgba(0,0,0,0.5) 303deg,rgba(0,0,0,1) 320deg,rgba(0,0,0,1) 360deg);"></div>
<div class="l" style="background:radial-gradient(circle at 50% 50%,rgba(14,8,238,0) 44px,#0e08ee 45.5px,#0e08ee 52.2px,rgba(88,0,192,0.45) 55.08px,rgba(88,0,192,0) 58.5px);-webkit-mask-image:conic-gradient(from 90deg at 50% 50%,rgba(0,0,0,1) 0deg,rgba(0,0,0,1) 20deg,rgba(0,0,0,0.5) 39deg,rgba(0,0,0,0) 58deg,rgba(0,0,0,0) 122deg,rgba(0,0,0,0.5) 141deg,rgba(0,0,0,1) 160deg,rgba(0,0,0,1) 200deg,rgba(0,0,0,0.5) 219deg,rgba(0,0,0,0) 238deg,rgba(0,0,0,0) 302deg,rgba(0,0,0,0.5) 321deg,rgba(0,0,0,1) 340deg,rgba(0,0,0,1) 360deg);mask-image:conic-gradient(from 90deg at 50% 50%,rgba(0,0,0,1) 0deg,rgba(0,0,0,1) 20deg,rgba(0,0,0,0.5) 39deg,rgba(0,0,0,0) 58deg,rgba(0,0,0,0) 122deg,rgba(0,0,0,0.5) 141deg,rgba(0,0,0,1) 160deg,rgba(0,0,0,1) 200deg,rgba(0,0,0,0.5) 219deg,rgba(0,0,0,0) 238deg,rgba(0,0,0,0) 302deg,rgba(0,0,0,0.5) 321deg,rgba(0,0,0,1) 340deg,rgba(0,0,0,1) 360deg);"></div>
<div class="l" style="background:radial-gradient(circle at 50% 50%,rgba(0,164,216,0) 44.5px,rgba(0,164,216,0.85) 45.6px,rgba(0,164,216,0.51) 46.6px,rgba(0,164,216,0) 48px);-webkit-mask-image:conic-gradient(from 90deg at 50% 50%,rgba(0,0,0,1) 0deg,rgba(0,0,0,1) 14deg,rgba(0,0,0,0.5) 31deg,rgba(0,0,0,0) 48deg,rgba(0,0,0,0) 132deg,rgba(0,0,0,0.5) 149deg,rgba(0,0,0,1) 166deg,rgba(0,0,0,1) 194deg,rgba(0,0,0,0.5) 211deg,rgba(0,0,0,0) 228deg,rgba(0,0,0,0) 312deg,rgba(0,0,0,0.5) 329deg,rgba(0,0,0,1) 346deg,rgba(0,0,0,1) 360deg);mask-image:conic-gradient(from 90deg at 50% 50%,rgba(0,0,0,1) 0deg,rgba(0,0,0,1) 14deg,rgba(0,0,0,0.5) 31deg,rgba(0,0,0,0) 48deg,rgba(0,0,0,0) 132deg,rgba(0,0,0,0.5) 149deg,rgba(0,0,0,1) 166deg,rgba(0,0,0,1) 194deg,rgba(0,0,0,0.5) 211deg,rgba(0,0,0,0) 228deg,rgba(0,0,0,0) 312deg,rgba(0,0,0,0.5) 329deg,rgba(0,0,0,1) 346deg,rgba(0,0,0,1) 360deg);"></div>
<div class="l" style="background:radial-gradient(circle at 50% 50%,#6a0890 0px,#6a0890 44.5px,rgba(106,8,144,0) 45.5px);"></div>
<div class="l" style="background:radial-gradient(circle at 50% 50%,rgba(38,5,48,0) 35.5px,#260530 36.5px,#260530 44.5px,rgba(38,5,48,0) 45.5px);"></div>
<div class="l" style="background:radial-gradient(circle at 50% 50%,rgba(114,10,140,0) 35.8px,rgba(114,10,140,0.62) 36.8px,rgba(114,10,140,0.62) 44.2px,rgba(114,10,140,0) 45.2px);-webkit-mask-image:conic-gradient(from 0deg at 50% 50%,rgba(0,0,0,1) 0deg,rgba(0,0,0,1) 28deg,rgba(0,0,0,0.5) 50deg,rgba(0,0,0,0) 72deg,rgba(0,0,0,0) 108deg,rgba(0,0,0,0.5) 130deg,rgba(0,0,0,1) 152deg,rgba(0,0,0,1) 208deg,rgba(0,0,0,0.5) 230deg,rgba(0,0,0,0) 252deg,rgba(0,0,0,0) 288deg,rgba(0,0,0,0.5) 310deg,rgba(0,0,0,1) 332deg,rgba(0,0,0,1) 360deg);mask-image:conic-gradient(from 0deg at 50% 50%,rgba(0,0,0,1) 0deg,rgba(0,0,0,1) 28deg,rgba(0,0,0,0.5) 50deg,rgba(0,0,0,0) 72deg,rgba(0,0,0,0) 108deg,rgba(0,0,0,0.5) 130deg,rgba(0,0,0,1) 152deg,rgba(0,0,0,1) 208deg,rgba(0,0,0,0.5) 230deg,rgba(0,0,0,0) 252deg,rgba(0,0,0,0) 288deg,rgba(0,0,0,0.5) 310deg,rgba(0,0,0,1) 332deg,rgba(0,0,0,1) 360deg);"></div>
<div class="l" style="background:radial-gradient(circle at 50% 50%,rgba(14,0,18,0) 35.5px,rgba(14,0,18,0.6) 36.5px,rgba(14,0,18,0.6) 44.5px,rgba(14,0,18,0) 45.5px);-webkit-mask-image:conic-gradient(from 90deg at 50% 50%,rgba(0,0,0,1) 0deg,rgba(0,0,0,1) 22deg,rgba(0,0,0,0.5) 40deg,rgba(0,0,0,0) 58deg,rgba(0,0,0,0) 122deg,rgba(0,0,0,0.5) 140deg,rgba(0,0,0,1) 158deg,rgba(0,0,0,1) 202deg,rgba(0,0,0,0.5) 220deg,rgba(0,0,0,0) 238deg,rgba(0,0,0,0) 302deg,rgba(0,0,0,0.5) 320deg,rgba(0,0,0,1) 338deg,rgba(0,0,0,1) 360deg);mask-image:conic-gradient(from 90deg at 50% 50%,rgba(0,0,0,1) 0deg,rgba(0,0,0,1) 22deg,rgba(0,0,0,0.5) 40deg,rgba(0,0,0,0) 58deg,rgba(0,0,0,0) 122deg,rgba(0,0,0,0.5) 140deg,rgba(0,0,0,1) 158deg,rgba(0,0,0,1) 202deg,rgba(0,0,0,0.5) 220deg,rgba(0,0,0,0) 238deg,rgba(0,0,0,0) 302deg,rgba(0,0,0,0.5) 320deg,rgba(0,0,0,1) 338deg,rgba(0,0,0,1) 360deg);"></div>
<div class="l" style="background:radial-gradient(circle at 50% 50%,rgba(25,2,32,0) 27px,rgba(25,2,32,0.55) 29px,rgba(25,2,32,0.95) 30.5px,rgba(25,2,32,0.97) 35.5px,rgba(25,2,32,0) 36.5px);-webkit-mask-image:conic-gradient(from 90deg at 50% 50%,rgba(0,0,0,1) 0deg,rgba(0,0,0,1) 35deg,rgba(0,0,0,0.5) 53.5deg,rgba(0,0,0,0) 72deg,rgba(0,0,0,0) 108deg,rgba(0,0,0,0.5) 126.5deg,rgba(0,0,0,1) 145deg,rgba(0,0,0,1) 215deg,rgba(0,0,0,0.5) 233.5deg,rgba(0,0,0,0) 252deg,rgba(0,0,0,0) 288deg,rgba(0,0,0,0.5) 306.5deg,rgba(0,0,0,1) 325deg,rgba(0,0,0,1) 360deg);mask-image:conic-gradient(from 90deg at 50% 50%,rgba(0,0,0,1) 0deg,rgba(0,0,0,1) 35deg,rgba(0,0,0,0.5) 53.5deg,rgba(0,0,0,0) 72deg,rgba(0,0,0,0) 108deg,rgba(0,0,0,0.5) 126.5deg,rgba(0,0,0,1) 145deg,rgba(0,0,0,1) 215deg,rgba(0,0,0,0.5) 233.5deg,rgba(0,0,0,0) 252deg,rgba(0,0,0,0) 288deg,rgba(0,0,0,0.5) 306.5deg,rgba(0,0,0,1) 325deg,rgba(0,0,0,1) 360deg);"></div>
<div class="l" style="background:radial-gradient(circle at 50% 50%,#4e10b4 0px,#4e10b4 26.7px,rgba(78,16,180,0) 28.3px);"></div>
</div>
<div class="vg"></div>
</div>
<div class="bk" style="left:390.2px;top:310px;width:154px;height:151px"></div>
<div class="sq" style="left:397.6px;top:331px;width:112.2px;height:111px">
<div class="ct" style="left:-30.8px;top:-30.7px;transform:scale(1.000,1.000)"><div class="l" style="background:radial-gradient(circle at 50% 50%,#90009f 0px,#90009f 53.4px,#7a008c 64.4px,#2a0034 77.4px);"></div></div>
<div class="tbd"></div>
<div class="ct" style="left:-30.8px;top:-30.7px;transform:scale(1.000,1.000)">
<div class="l" style="background:radial-gradient(circle at 50% 50%,rgba(24,0,32,0) 46.4px,rgba(24,0,32,0.4) 58.4px);-webkit-mask-image:conic-gradient(from 0deg at 50% 50%,rgba(0,0,0,1) 0deg,rgba(0,0,0,1) 15deg,rgba(0,0,0,0.5) 38.5deg,rgba(0,0,0,0) 62deg,rgba(0,0,0,0) 118deg,rgba(0,0,0,0.5) 141.5deg,rgba(0,0,0,1) 165deg,rgba(0,0,0,1) 195deg,rgba(0,0,0,0.5) 218.5deg,rgba(0,0,0,0) 242deg,rgba(0,0,0,0) 298deg,rgba(0,0,0,0.5) 321.5deg,rgba(0,0,0,1) 345deg,rgba(0,0,0,1) 360deg);mask-image:conic-gradient(from 0deg at 50% 50%,rgba(0,0,0,1) 0deg,rgba(0,0,0,1) 15deg,rgba(0,0,0,0.5) 38.5deg,rgba(0,0,0,0) 62deg,rgba(0,0,0,0) 118deg,rgba(0,0,0,0.5) 141.5deg,rgba(0,0,0,1) 165deg,rgba(0,0,0,1) 195deg,rgba(0,0,0,0.5) 218.5deg,rgba(0,0,0,0) 242deg,rgba(0,0,0,0) 298deg,rgba(0,0,0,0.5) 321.5deg,rgba(0,0,0,1) 345deg,rgba(0,0,0,1) 360deg);"></div>
<div class="l" style="background:radial-gradient(circle at 50% 50%,rgba(20,0,24,0.7) 42.4px,rgba(20,0,24,0.88) 52.4px,rgba(20,0,24,0.88) 74.4px);-webkit-mask-image:conic-gradient(from 0deg at 50% 50%,rgba(0,0,0,1) 0deg,rgba(0,0,0,1) 5deg,rgba(0,0,0,0.5) 18.5deg,rgba(0,0,0,0) 32deg,rgba(0,0,0,0) 148deg,rgba(0,0,0,0.5) 161.5deg,rgba(0,0,0,1) 175deg,rgba(0,0,0,1) 185deg,rgba(0,0,0,0.5) 198.5deg,rgba(0,0,0,0) 212deg,rgba(0,0,0,0) 328deg,rgba(0,0,0,0.5) 341.5deg,rgba(0,0,0,1) 355deg,rgba(0,0,0,1) 360deg);mask-image:conic-gradient(from 0deg at 50% 50%,rgba(0,0,0,1) 0deg,rgba(0,0,0,1) 5deg,rgba(0,0,0,0.5) 18.5deg,rgba(0,0,0,0) 32deg,rgba(0,0,0,0) 148deg,rgba(0,0,0,0.5) 161.5deg,rgba(0,0,0,1) 175deg,rgba(0,0,0,1) 185deg,rgba(0,0,0,0.5) 198.5deg,rgba(0,0,0,0) 212deg,rgba(0,0,0,0) 328deg,rgba(0,0,0,0.5) 341.5deg,rgba(0,0,0,1) 355deg,rgba(0,0,0,1) 360deg);"></div>
<div class="l" style="background:radial-gradient(circle at 50% 50%,rgba(14,8,238,0) 43.4px,rgba(14,8,238,0.95) 44.9px,rgba(14,8,238,0.9) 48px,rgba(88,0,192,0.35) 51.15px,rgba(88,0,192,0) 54.3px);-webkit-mask-image:conic-gradient(from 90deg at 50% 50%,rgba(0,0,0,1) 0deg,rgba(0,0,0,1) 40deg,rgba(0,0,0,0.5) 57deg,rgba(0,0,0,0) 74deg,rgba(0,0,0,0) 106deg,rgba(0,0,0,0.5) 123deg,rgba(0,0,0,1) 140deg,rgba(0,0,0,1) 220deg,rgba(0,0,0,0.5) 237deg,rgba(0,0,0,0) 254deg,rgba(0,0,0,0) 286deg,rgba(0,0,0,0.5) 303deg,rgba(0,0,0,1) 320deg,rgba(0,0,0,1) 360deg);mask-image:conic-gradient(from 90deg at 50% 50%,rgba(0,0,0,1) 0deg,rgba(0,0,0,1) 40deg,rgba(0,0,0,0.5) 57deg,rgba(0,0,0,0) 74deg,rgba(0,0,0,0) 106deg,rgba(0,0,0,0.5) 123deg,rgba(0,0,0,1) 140deg,rgba(0,0,0,1) 220deg,rgba(0,0,0,0.5) 237deg,rgba(0,0,0,0) 254deg,rgba(0,0,0,0) 286deg,rgba(0,0,0,0.5) 303deg,rgba(0,0,0,1) 320deg,rgba(0,0,0,1) 360deg);"></div>
<div class="l" style="background:radial-gradient(circle at 50% 50%,rgba(14,8,238,0) 43.4px,#0e08ee 44.9px,#0e08ee 51.6px,rgba(88,0,192,0.45) 54.48px,rgba(88,0,192,0) 57.9px);-webkit-mask-image:conic-gradient(from 90deg at 50% 50%,rgba(0,0,0,1) 0deg,rgba(0,0,0,1) 20deg,rgba(0,0,0,0.5) 39deg,rgba(0,0,0,0) 58deg,rgba(0,0,0,0) 122deg,rgba(0,0,0,0.5) 141deg,rgba(0,0,0,1) 160deg,rgba(0,0,0,1) 200deg,rgba(0,0,0,0.5) 219deg,rgba(0,0,0,0) 238deg,rgba(0,0,0,0) 302deg,rgba(0,0,0,0.5) 321deg,rgba(0,0,0,1) 340deg,rgba(0,0,0,1) 360deg);mask-image:conic-gradient(from 90deg at 50% 50%,rgba(0,0,0,1) 0deg,rgba(0,0,0,1) 20deg,rgba(0,0,0,0.5) 39deg,rgba(0,0,0,0) 58deg,rgba(0,0,0,0) 122deg,rgba(0,0,0,0.5) 141deg,rgba(0,0,0,1) 160deg,rgba(0,0,0,1) 200deg,rgba(0,0,0,0.5) 219deg,rgba(0,0,0,0) 238deg,rgba(0,0,0,0) 302deg,rgba(0,0,0,0.5) 321deg,rgba(0,0,0,1) 340deg,rgba(0,0,0,1) 360deg);"></div>
<div class="l" style="background:radial-gradient(circle at 50% 50%,rgba(0,164,216,0) 43.9px,rgba(0,164,216,0.85) 45px,rgba(0,164,216,0.51) 46px,rgba(0,164,216,0) 47.4px);-webkit-mask-image:conic-gradient(from 90deg at 50% 50%,rgba(0,0,0,1) 0deg,rgba(0,0,0,1) 14deg,rgba(0,0,0,0.5) 31deg,rgba(0,0,0,0) 48deg,rgba(0,0,0,0) 132deg,rgba(0,0,0,0.5) 149deg,rgba(0,0,0,1) 166deg,rgba(0,0,0,1) 194deg,rgba(0,0,0,0.5) 211deg,rgba(0,0,0,0) 228deg,rgba(0,0,0,0) 312deg,rgba(0,0,0,0.5) 329deg,rgba(0,0,0,1) 346deg,rgba(0,0,0,1) 360deg);mask-image:conic-gradient(from 90deg at 50% 50%,rgba(0,0,0,1) 0deg,rgba(0,0,0,1) 14deg,rgba(0,0,0,0.5) 31deg,rgba(0,0,0,0) 48deg,rgba(0,0,0,0) 132deg,rgba(0,0,0,0.5) 149deg,rgba(0,0,0,1) 166deg,rgba(0,0,0,1) 194deg,rgba(0,0,0,0.5) 211deg,rgba(0,0,0,0) 228deg,rgba(0,0,0,0) 312deg,rgba(0,0,0,0.5) 329deg,rgba(0,0,0,1) 346deg,rgba(0,0,0,1) 360deg);"></div>
<div class="l" style="background:radial-gradient(circle at 50% 50%,#7c0092 0px,#7c0092 43.9px,rgba(124,0,146,0) 44.9px);"></div>
<div class="l" style="background:radial-gradient(circle at 50% 50%,rgba(38,5,48,0) 35.8px,#260530 36.8px,#260530 43.9px,rgba(38,5,48,0) 44.9px);"></div>
<div class="l" style="background:radial-gradient(circle at 50% 50%,rgba(114,10,140,0) 36.1px,rgba(114,10,140,0.62) 37.1px,rgba(114,10,140,0.62) 43.6px,rgba(114,10,140,0) 44.6px);-webkit-mask-image:conic-gradient(from 0deg at 50% 50%,rgba(0,0,0,1) 0deg,rgba(0,0,0,1) 28deg,rgba(0,0,0,0.5) 50deg,rgba(0,0,0,0) 72deg,rgba(0,0,0,0) 108deg,rgba(0,0,0,0.5) 130deg,rgba(0,0,0,1) 152deg,rgba(0,0,0,1) 208deg,rgba(0,0,0,0.5) 230deg,rgba(0,0,0,0) 252deg,rgba(0,0,0,0) 288deg,rgba(0,0,0,0.5) 310deg,rgba(0,0,0,1) 332deg,rgba(0,0,0,1) 360deg);mask-image:conic-gradient(from 0deg at 50% 50%,rgba(0,0,0,1) 0deg,rgba(0,0,0,1) 28deg,rgba(0,0,0,0.5) 50deg,rgba(0,0,0,0) 72deg,rgba(0,0,0,0) 108deg,rgba(0,0,0,0.5) 130deg,rgba(0,0,0,1) 152deg,rgba(0,0,0,1) 208deg,rgba(0,0,0,0.5) 230deg,rgba(0,0,0,0) 252deg,rgba(0,0,0,0) 288deg,rgba(0,0,0,0.5) 310deg,rgba(0,0,0,1) 332deg,rgba(0,0,0,1) 360deg);"></div>
<div class="l" style="background:radial-gradient(circle at 50% 50%,rgba(14,0,18,0) 35.8px,rgba(14,0,18,0.6) 36.8px,rgba(14,0,18,0.6) 43.9px,rgba(14,0,18,0) 44.9px);-webkit-mask-image:conic-gradient(from 90deg at 50% 50%,rgba(0,0,0,1) 0deg,rgba(0,0,0,1) 22deg,rgba(0,0,0,0.5) 40deg,rgba(0,0,0,0) 58deg,rgba(0,0,0,0) 122deg,rgba(0,0,0,0.5) 140deg,rgba(0,0,0,1) 158deg,rgba(0,0,0,1) 202deg,rgba(0,0,0,0.5) 220deg,rgba(0,0,0,0) 238deg,rgba(0,0,0,0) 302deg,rgba(0,0,0,0.5) 320deg,rgba(0,0,0,1) 338deg,rgba(0,0,0,1) 360deg);mask-image:conic-gradient(from 90deg at 50% 50%,rgba(0,0,0,1) 0deg,rgba(0,0,0,1) 22deg,rgba(0,0,0,0.5) 40deg,rgba(0,0,0,0) 58deg,rgba(0,0,0,0) 122deg,rgba(0,0,0,0.5) 140deg,rgba(0,0,0,1) 158deg,rgba(0,0,0,1) 202deg,rgba(0,0,0,0.5) 220deg,rgba(0,0,0,0) 238deg,rgba(0,0,0,0) 302deg,rgba(0,0,0,0.5) 320deg,rgba(0,0,0,1) 338deg,rgba(0,0,0,1) 360deg);"></div>
<div class="l" style="background:radial-gradient(circle at 50% 50%,rgba(25,2,32,0) 22px,rgba(25,2,32,0.55) 26.5px,rgba(25,2,32,0.95) 30.5px,rgba(25,2,32,0.97) 35.8px,rgba(25,2,32,0) 36.8px);-webkit-mask-image:conic-gradient(from 90deg at 50% 50%,rgba(0,0,0,1) 0deg,rgba(0,0,0,1) 32deg,rgba(0,0,0,0.5) 52deg,rgba(0,0,0,0) 72deg,rgba(0,0,0,0) 108deg,rgba(0,0,0,0.5) 128deg,rgba(0,0,0,1) 148deg,rgba(0,0,0,1) 212deg,rgba(0,0,0,0.5) 232deg,rgba(0,0,0,0) 252deg,rgba(0,0,0,0) 288deg,rgba(0,0,0,0.5) 308deg,rgba(0,0,0,1) 328deg,rgba(0,0,0,1) 360deg);mask-image:conic-gradient(from 90deg at 50% 50%,rgba(0,0,0,1) 0deg,rgba(0,0,0,1) 32deg,rgba(0,0,0,0.5) 52deg,rgba(0,0,0,0) 72deg,rgba(0,0,0,0) 108deg,rgba(0,0,0,0.5) 128deg,rgba(0,0,0,1) 148deg,rgba(0,0,0,1) 212deg,rgba(0,0,0,0.5) 232deg,rgba(0,0,0,0) 252deg,rgba(0,0,0,0) 288deg,rgba(0,0,0,0.5) 308deg,rgba(0,0,0,1) 328deg,rgba(0,0,0,1) 360deg);"></div>
<div class="l" style="background:radial-gradient(circle at 50% 50%,#7008a8 0px,#7008a8 21.7px,rgba(112,8,168,0) 23.3px);"></div>
</div>
<div class="vg"></div>
</div>
<div class="bk" style="left:7.1px;top:476.1px;width:156.9px;height:156.5px"></div>
<div class="sq" style="left:10.8px;top:499.6px;width:117.6px;height:111.3px">
<div class="ct" style="left:-31.2px;top:-33.7px;transform:scale(1.020,0.985)"><div class="l" style="background:radial-gradient(circle at 50% 50%,#90009f 0px,#90009f 54.9px,#7a008c 65.9px,#2a0034 78.9px);"></div></div>
<div class="tbd"></div>
<div class="ct" style="left:-31.2px;top:-33.7px;transform:scale(1.020,0.985)">
<div class="l" style="background:radial-gradient(circle at 50% 50%,rgba(24,0,32,0) 47.9px,rgba(24,0,32,0.28) 59.9px);-webkit-mask-image:conic-gradient(from 0deg at 50% 50%,rgba(0,0,0,1) 0deg,rgba(0,0,0,1) 15deg,rgba(0,0,0,0.5) 38.5deg,rgba(0,0,0,0) 62deg,rgba(0,0,0,0) 118deg,rgba(0,0,0,0.5) 141.5deg,rgba(0,0,0,1) 165deg,rgba(0,0,0,1) 195deg,rgba(0,0,0,0.5) 218.5deg,rgba(0,0,0,0) 242deg,rgba(0,0,0,0) 298deg,rgba(0,0,0,0.5) 321.5deg,rgba(0,0,0,1) 345deg,rgba(0,0,0,1) 360deg);mask-image:conic-gradient(from 0deg at 50% 50%,rgba(0,0,0,1) 0deg,rgba(0,0,0,1) 15deg,rgba(0,0,0,0.5) 38.5deg,rgba(0,0,0,0) 62deg,rgba(0,0,0,0) 118deg,rgba(0,0,0,0.5) 141.5deg,rgba(0,0,0,1) 165deg,rgba(0,0,0,1) 195deg,rgba(0,0,0,0.5) 218.5deg,rgba(0,0,0,0) 242deg,rgba(0,0,0,0) 298deg,rgba(0,0,0,0.5) 321.5deg,rgba(0,0,0,1) 345deg,rgba(0,0,0,1) 360deg);"></div>
<div class="l" style="background:radial-gradient(circle at 50% 50%,rgba(20,0,24,0.54) 43.9px,rgba(20,0,24,0.68) 53.9px,rgba(20,0,24,0.68) 75.9px);-webkit-mask-image:conic-gradient(from 0deg at 50% 50%,rgba(0,0,0,1) 0deg,rgba(0,0,0,1) 5deg,rgba(0,0,0,0.5) 18.5deg,rgba(0,0,0,0) 32deg,rgba(0,0,0,0) 148deg,rgba(0,0,0,0.5) 161.5deg,rgba(0,0,0,1) 175deg,rgba(0,0,0,1) 185deg,rgba(0,0,0,0.5) 198.5deg,rgba(0,0,0,0) 212deg,rgba(0,0,0,0) 328deg,rgba(0,0,0,0.5) 341.5deg,rgba(0,0,0,1) 355deg,rgba(0,0,0,1) 360deg);mask-image:conic-gradient(from 0deg at 50% 50%,rgba(0,0,0,1) 0deg,rgba(0,0,0,1) 5deg,rgba(0,0,0,0.5) 18.5deg,rgba(0,0,0,0) 32deg,rgba(0,0,0,0) 148deg,rgba(0,0,0,0.5) 161.5deg,rgba(0,0,0,1) 175deg,rgba(0,0,0,1) 185deg,rgba(0,0,0,0.5) 198.5deg,rgba(0,0,0,0) 212deg,rgba(0,0,0,0) 328deg,rgba(0,0,0,0.5) 341.5deg,rgba(0,0,0,1) 355deg,rgba(0,0,0,1) 360deg);"></div>
<div class="l" style="background:radial-gradient(circle at 50% 50%,rgba(14,8,238,0) 44.9px,rgba(14,8,238,0.95) 46.4px,rgba(14,8,238,0.9) 49.5px,rgba(88,0,192,0.35) 52.65px,rgba(88,0,192,0) 55.8px);-webkit-mask-image:conic-gradient(from 90deg at 50% 50%,rgba(0,0,0,1) 0deg,rgba(0,0,0,1) 40deg,rgba(0,0,0,0.5) 57deg,rgba(0,0,0,0) 74deg,rgba(0,0,0,0) 106deg,rgba(0,0,0,0.5) 123deg,rgba(0,0,0,1) 140deg,rgba(0,0,0,1) 220deg,rgba(0,0,0,0.5) 237deg,rgba(0,0,0,0) 254deg,rgba(0,0,0,0) 286deg,rgba(0,0,0,0.5) 303deg,rgba(0,0,0,1) 320deg,rgba(0,0,0,1) 360deg);mask-image:conic-gradient(from 90deg at 50% 50%,rgba(0,0,0,1) 0deg,rgba(0,0,0,1) 40deg,rgba(0,0,0,0.5) 57deg,rgba(0,0,0,0) 74deg,rgba(0,0,0,0) 106deg,rgba(0,0,0,0.5) 123deg,rgba(0,0,0,1) 140deg,rgba(0,0,0,1) 220deg,rgba(0,0,0,0.5) 237deg,rgba(0,0,0,0) 254deg,rgba(0,0,0,0) 286deg,rgba(0,0,0,0.5) 303deg,rgba(0,0,0,1) 320deg,rgba(0,0,0,1) 360deg);"></div>
<div class="l" style="background:radial-gradient(circle at 50% 50%,rgba(14,8,238,0) 44.9px,#0e08ee 46.4px,#0e08ee 53.1px,rgba(88,0,192,0.45) 55.98px,rgba(88,0,192,0) 59.4px);-webkit-mask-image:conic-gradient(from 90deg at 50% 50%,rgba(0,0,0,1) 0deg,rgba(0,0,0,1) 20deg,rgba(0,0,0,0.5) 39deg,rgba(0,0,0,0) 58deg,rgba(0,0,0,0) 122deg,rgba(0,0,0,0.5) 141deg,rgba(0,0,0,1) 160deg,rgba(0,0,0,1) 200deg,rgba(0,0,0,0.5) 219deg,rgba(0,0,0,0) 238deg,rgba(0,0,0,0) 302deg,rgba(0,0,0,0.5) 321deg,rgba(0,0,0,1) 340deg,rgba(0,0,0,1) 360deg);mask-image:conic-gradient(from 90deg at 50% 50%,rgba(0,0,0,1) 0deg,rgba(0,0,0,1) 20deg,rgba(0,0,0,0.5) 39deg,rgba(0,0,0,0) 58deg,rgba(0,0,0,0) 122deg,rgba(0,0,0,0.5) 141deg,rgba(0,0,0,1) 160deg,rgba(0,0,0,1) 200deg,rgba(0,0,0,0.5) 219deg,rgba(0,0,0,0) 238deg,rgba(0,0,0,0) 302deg,rgba(0,0,0,0.5) 321deg,rgba(0,0,0,1) 340deg,rgba(0,0,0,1) 360deg);"></div>
<div class="l" style="background:radial-gradient(circle at 50% 50%,rgba(0,164,216,0) 45.4px,rgba(0,164,216,0.85) 46.5px,rgba(0,164,216,0.51) 47.5px,rgba(0,164,216,0) 48.9px);-webkit-mask-image:conic-gradient(from 90deg at 50% 50%,rgba(0,0,0,1) 0deg,rgba(0,0,0,1) 14deg,rgba(0,0,0,0.5) 31deg,rgba(0,0,0,0) 48deg,rgba(0,0,0,0) 132deg,rgba(0,0,0,0.5) 149deg,rgba(0,0,0,1) 166deg,rgba(0,0,0,1) 194deg,rgba(0,0,0,0.5) 211deg,rgba(0,0,0,0) 228deg,rgba(0,0,0,0) 312deg,rgba(0,0,0,0.5) 329deg,rgba(0,0,0,1) 346deg,rgba(0,0,0,1) 360deg);mask-image:conic-gradient(from 90deg at 50% 50%,rgba(0,0,0,1) 0deg,rgba(0,0,0,1) 14deg,rgba(0,0,0,0.5) 31deg,rgba(0,0,0,0) 48deg,rgba(0,0,0,0) 132deg,rgba(0,0,0,0.5) 149deg,rgba(0,0,0,1) 166deg,rgba(0,0,0,1) 194deg,rgba(0,0,0,0.5) 211deg,rgba(0,0,0,0) 228deg,rgba(0,0,0,0) 312deg,rgba(0,0,0,0.5) 329deg,rgba(0,0,0,1) 346deg,rgba(0,0,0,1) 360deg);"></div>
<div class="l" style="background:radial-gradient(circle at 50% 50%,#84009a 0px,#84009a 45.4px,rgba(132,0,154,0) 46.4px);"></div>
<div class="l" style="background:radial-gradient(circle at 50% 50%,rgba(26,3,34,0) 26.7px,rgba(26,3,34,0.97) 30.7px,rgba(26,3,34,0.97) 44.4px,rgba(26,3,34,0) 45.9px);-webkit-mask-image:conic-gradient(from 90deg at 50% 50%,rgba(0,0,0,1) 0deg,rgba(0,0,0,1) 22deg,rgba(0,0,0,0.5) 44deg,rgba(0,0,0,0) 66deg,rgba(0,0,0,0) 114deg,rgba(0,0,0,0.5) 136deg,rgba(0,0,0,1) 158deg,rgba(0,0,0,1) 202deg,rgba(0,0,0,0.5) 224deg,rgba(0,0,0,0) 246deg,rgba(0,0,0,0) 294deg,rgba(0,0,0,0.5) 316deg,rgba(0,0,0,1) 338deg,rgba(0,0,0,1) 360deg);mask-image:conic-gradient(from 90deg at 50% 50%,rgba(0,0,0,1) 0deg,rgba(0,0,0,1) 22deg,rgba(0,0,0,0.5) 44deg,rgba(0,0,0,0) 66deg,rgba(0,0,0,0) 114deg,rgba(0,0,0,0.5) 136deg,rgba(0,0,0,1) 158deg,rgba(0,0,0,1) 202deg,rgba(0,0,0,0.5) 224deg,rgba(0,0,0,0) 246deg,rgba(0,0,0,0) 294deg,rgba(0,0,0,0.5) 316deg,rgba(0,0,0,1) 338deg,rgba(0,0,0,1) 360deg);"></div>
<div class="l" style="background:radial-gradient(circle at 50% 50%,#8a06a6 0px,#8a06a6 26.7px,rgba(138,6,166,0) 28.7px);"></div>
</div>
<div class="vg"></div>
</div>
<div class="bk" style="left:199.1px;top:475.9px;width:152.2px;height:157.1px"></div>
<div class="sq" style="left:202.9px;top:498px;width:113.9px;height:111.3px">
<div class="ct" style="left:-30px;top:-30.8px;transform:scale(1.025,0.978)"><div class="l" style="background:radial-gradient(circle at 50% 50%,#90009f 0px,#90009f 53.7px,#7a008c 64.7px,#2a0034 77.7px);"></div></div>
<div class="tbd"></div>
<div class="ct" style="left:-30px;top:-30.8px;transform:scale(1.025,0.978)">
<div class="l" style="background:radial-gradient(circle at 50% 50%,rgba(24,0,32,0) 46.7px,rgba(24,0,32,0.4) 58.7px);-webkit-mask-image:conic-gradient(from 0deg at 50% 50%,rgba(0,0,0,1) 0deg,rgba(0,0,0,1) 15deg,rgba(0,0,0,0.5) 38.5deg,rgba(0,0,0,0) 62deg,rgba(0,0,0,0) 118deg,rgba(0,0,0,0.5) 141.5deg,rgba(0,0,0,1) 165deg,rgba(0,0,0,1) 195deg,rgba(0,0,0,0.5) 218.5deg,rgba(0,0,0,0) 242deg,rgba(0,0,0,0) 298deg,rgba(0,0,0,0.5) 321.5deg,rgba(0,0,0,1) 345deg,rgba(0,0,0,1) 360deg);mask-image:conic-gradient(from 0deg at 50% 50%,rgba(0,0,0,1) 0deg,rgba(0,0,0,1) 15deg,rgba(0,0,0,0.5) 38.5deg,rgba(0,0,0,0) 62deg,rgba(0,0,0,0) 118deg,rgba(0,0,0,0.5) 141.5deg,rgba(0,0,0,1) 165deg,rgba(0,0,0,1) 195deg,rgba(0,0,0,0.5) 218.5deg,rgba(0,0,0,0) 242deg,rgba(0,0,0,0) 298deg,rgba(0,0,0,0.5) 321.5deg,rgba(0,0,0,1) 345deg,rgba(0,0,0,1) 360deg);"></div>
<div class="l" style="background:radial-gradient(circle at 50% 50%,rgba(20,0,24,0.7) 42.7px,rgba(20,0,24,0.88) 52.7px,rgba(20,0,24,0.88) 74.7px);-webkit-mask-image:conic-gradient(from 0deg at 50% 50%,rgba(0,0,0,1) 0deg,rgba(0,0,0,1) 5deg,rgba(0,0,0,0.5) 18.5deg,rgba(0,0,0,0) 32deg,rgba(0,0,0,0) 148deg,rgba(0,0,0,0.5) 161.5deg,rgba(0,0,0,1) 175deg,rgba(0,0,0,1) 185deg,rgba(0,0,0,0.5) 198.5deg,rgba(0,0,0,0) 212deg,rgba(0,0,0,0) 328deg,rgba(0,0,0,0.5) 341.5deg,rgba(0,0,0,1) 355deg,rgba(0,0,0,1) 360deg);mask-image:conic-gradient(from 0deg at 50% 50%,rgba(0,0,0,1) 0deg,rgba(0,0,0,1) 5deg,rgba(0,0,0,0.5) 18.5deg,rgba(0,0,0,0) 32deg,rgba(0,0,0,0) 148deg,rgba(0,0,0,0.5) 161.5deg,rgba(0,0,0,1) 175deg,rgba(0,0,0,1) 185deg,rgba(0,0,0,0.5) 198.5deg,rgba(0,0,0,0) 212deg,rgba(0,0,0,0) 328deg,rgba(0,0,0,0.5) 341.5deg,rgba(0,0,0,1) 355deg,rgba(0,0,0,1) 360deg);"></div>
<div class="l" style="background:radial-gradient(circle at 50% 50%,rgba(14,8,238,0) 43.7px,rgba(14,8,238,0.95) 45.2px,rgba(14,8,238,0.9) 48.3px,rgba(88,0,192,0.35) 51.45px,rgba(88,0,192,0) 54.6px);-webkit-mask-image:conic-gradient(from 90deg at 50% 50%,rgba(0,0,0,1) 0deg,rgba(0,0,0,1) 40deg,rgba(0,0,0,0.5) 57deg,rgba(0,0,0,0) 74deg,rgba(0,0,0,0) 106deg,rgba(0,0,0,0.5) 123deg,rgba(0,0,0,1) 140deg,rgba(0,0,0,1) 220deg,rgba(0,0,0,0.5) 237deg,rgba(0,0,0,0) 254deg,rgba(0,0,0,0) 286deg,rgba(0,0,0,0.5) 303deg,rgba(0,0,0,1) 320deg,rgba(0,0,0,1) 360deg);mask-image:conic-gradient(from 90deg at 50% 50%,rgba(0,0,0,1) 0deg,rgba(0,0,0,1) 40deg,rgba(0,0,0,0.5) 57deg,rgba(0,0,0,0) 74deg,rgba(0,0,0,0) 106deg,rgba(0,0,0,0.5) 123deg,rgba(0,0,0,1) 140deg,rgba(0,0,0,1) 220deg,rgba(0,0,0,0.5) 237deg,rgba(0,0,0,0) 254deg,rgba(0,0,0,0) 286deg,rgba(0,0,0,0.5) 303deg,rgba(0,0,0,1) 320deg,rgba(0,0,0,1) 360deg);"></div>
<div class="l" style="background:radial-gradient(circle at 50% 50%,rgba(14,8,238,0) 43.7px,#0e08ee 45.2px,#0e08ee 51.9px,rgba(88,0,192,0.45) 54.78px,rgba(88,0,192,0) 58.2px);-webkit-mask-image:conic-gradient(from 90deg at 50% 50%,rgba(0,0,0,1) 0deg,rgba(0,0,0,1) 20deg,rgba(0,0,0,0.5) 39deg,rgba(0,0,0,0) 58deg,rgba(0,0,0,0) 122deg,rgba(0,0,0,0.5) 141deg,rgba(0,0,0,1) 160deg,rgba(0,0,0,1) 200deg,rgba(0,0,0,0.5) 219deg,rgba(0,0,0,0) 238deg,rgba(0,0,0,0) 302deg,rgba(0,0,0,0.5) 321deg,rgba(0,0,0,1) 340deg,rgba(0,0,0,1) 360deg);mask-image:conic-gradient(from 90deg at 50% 50%,rgba(0,0,0,1) 0deg,rgba(0,0,0,1) 20deg,rgba(0,0,0,0.5) 39deg,rgba(0,0,0,0) 58deg,rgba(0,0,0,0) 122deg,rgba(0,0,0,0.5) 141deg,rgba(0,0,0,1) 160deg,rgba(0,0,0,1) 200deg,rgba(0,0,0,0.5) 219deg,rgba(0,0,0,0) 238deg,rgba(0,0,0,0) 302deg,rgba(0,0,0,0.5) 321deg,rgba(0,0,0,1) 340deg,rgba(0,0,0,1) 360deg);"></div>
<div class="l" style="background:radial-gradient(circle at 50% 50%,rgba(0,164,216,0) 44.2px,rgba(0,164,216,0.85) 45.3px,rgba(0,164,216,0.51) 46.3px,rgba(0,164,216,0) 47.7px);-webkit-mask-image:conic-gradient(from 90deg at 50% 50%,rgba(0,0,0,1) 0deg,rgba(0,0,0,1) 14deg,rgba(0,0,0,0.5) 31deg,rgba(0,0,0,0) 48deg,rgba(0,0,0,0) 132deg,rgba(0,0,0,0.5) 149deg,rgba(0,0,0,1) 166deg,rgba(0,0,0,1) 194deg,rgba(0,0,0,0.5) 211deg,rgba(0,0,0,0) 228deg,rgba(0,0,0,0) 312deg,rgba(0,0,0,0.5) 329deg,rgba(0,0,0,1) 346deg,rgba(0,0,0,1) 360deg);mask-image:conic-gradient(from 90deg at 50% 50%,rgba(0,0,0,1) 0deg,rgba(0,0,0,1) 14deg,rgba(0,0,0,0.5) 31deg,rgba(0,0,0,0) 48deg,rgba(0,0,0,0) 132deg,rgba(0,0,0,0.5) 149deg,rgba(0,0,0,1) 166deg,rgba(0,0,0,1) 194deg,rgba(0,0,0,0.5) 211deg,rgba(0,0,0,0) 228deg,rgba(0,0,0,0) 312deg,rgba(0,0,0,0.5) 329deg,rgba(0,0,0,1) 346deg,rgba(0,0,0,1) 360deg);"></div>
<div class="l" style="background:radial-gradient(circle at 50% 50%,#7c0092 0px,#7c0092 44.2px,rgba(124,0,146,0) 45.2px);"></div>
<div class="l" style="background:radial-gradient(circle at 50% 50%,rgba(38,5,48,0) 36px,#260530 37px,#260530 44.2px,rgba(38,5,48,0) 45.2px);"></div>
<div class="l" style="background:radial-gradient(circle at 50% 50%,rgba(114,10,140,0) 36.3px,rgba(114,10,140,0.62) 37.3px,rgba(114,10,140,0.62) 43.9px,rgba(114,10,140,0) 44.9px);-webkit-mask-image:conic-gradient(from 0deg at 50% 50%,rgba(0,0,0,1) 0deg,rgba(0,0,0,1) 28deg,rgba(0,0,0,0.5) 50deg,rgba(0,0,0,0) 72deg,rgba(0,0,0,0) 108deg,rgba(0,0,0,0.5) 130deg,rgba(0,0,0,1) 152deg,rgba(0,0,0,1) 208deg,rgba(0,0,0,0.5) 230deg,rgba(0,0,0,0) 252deg,rgba(0,0,0,0) 288deg,rgba(0,0,0,0.5) 310deg,rgba(0,0,0,1) 332deg,rgba(0,0,0,1) 360deg);mask-image:conic-gradient(from 0deg at 50% 50%,rgba(0,0,0,1) 0deg,rgba(0,0,0,1) 28deg,rgba(0,0,0,0.5) 50deg,rgba(0,0,0,0) 72deg,rgba(0,0,0,0) 108deg,rgba(0,0,0,0.5) 130deg,rgba(0,0,0,1) 152deg,rgba(0,0,0,1) 208deg,rgba(0,0,0,0.5) 230deg,rgba(0,0,0,0) 252deg,rgba(0,0,0,0) 288deg,rgba(0,0,0,0.5) 310deg,rgba(0,0,0,1) 332deg,rgba(0,0,0,1) 360deg);"></div>
<div class="l" style="background:radial-gradient(circle at 50% 50%,rgba(14,0,18,0) 36px,rgba(14,0,18,0.6) 37px,rgba(14,0,18,0.6) 44.2px,rgba(14,0,18,0) 45.2px);-webkit-mask-image:conic-gradient(from 90deg at 50% 50%,rgba(0,0,0,1) 0deg,rgba(0,0,0,1) 22deg,rgba(0,0,0,0.5) 40deg,rgba(0,0,0,0) 58deg,rgba(0,0,0,0) 122deg,rgba(0,0,0,0.5) 140deg,rgba(0,0,0,1) 158deg,rgba(0,0,0,1) 202deg,rgba(0,0,0,0.5) 220deg,rgba(0,0,0,0) 238deg,rgba(0,0,0,0) 302deg,rgba(0,0,0,0.5) 320deg,rgba(0,0,0,1) 338deg,rgba(0,0,0,1) 360deg);mask-image:conic-gradient(from 90deg at 50% 50%,rgba(0,0,0,1) 0deg,rgba(0,0,0,1) 22deg,rgba(0,0,0,0.5) 40deg,rgba(0,0,0,0) 58deg,rgba(0,0,0,0) 122deg,rgba(0,0,0,0.5) 140deg,rgba(0,0,0,1) 158deg,rgba(0,0,0,1) 202deg,rgba(0,0,0,0.5) 220deg,rgba(0,0,0,0) 238deg,rgba(0,0,0,0) 302deg,rgba(0,0,0,0.5) 320deg,rgba(0,0,0,1) 338deg,rgba(0,0,0,1) 360deg);"></div>
<div class="l" style="background:radial-gradient(circle at 50% 50%,rgba(25,2,32,0) 22.3px,rgba(25,2,32,0.55) 26.8px,rgba(25,2,32,0.95) 30.8px,rgba(25,2,32,0.97) 36px,rgba(25,2,32,0) 37px);-webkit-mask-image:conic-gradient(from 90deg at 50% 50%,rgba(0,0,0,1) 0deg,rgba(0,0,0,1) 32deg,rgba(0,0,0,0.5) 52deg,rgba(0,0,0,0) 72deg,rgba(0,0,0,0) 108deg,rgba(0,0,0,0.5) 128deg,rgba(0,0,0,1) 148deg,rgba(0,0,0,1) 212deg,rgba(0,0,0,0.5) 232deg,rgba(0,0,0,0) 252deg,rgba(0,0,0,0) 288deg,rgba(0,0,0,0.5) 308deg,rgba(0,0,0,1) 328deg,rgba(0,0,0,1) 360deg);mask-image:conic-gradient(from 90deg at 50% 50%,rgba(0,0,0,1) 0deg,rgba(0,0,0,1) 32deg,rgba(0,0,0,0.5) 52deg,rgba(0,0,0,0) 72deg,rgba(0,0,0,0) 108deg,rgba(0,0,0,0.5) 128deg,rgba(0,0,0,1) 148deg,rgba(0,0,0,1) 212deg,rgba(0,0,0,0.5) 232deg,rgba(0,0,0,0) 252deg,rgba(0,0,0,0) 288deg,rgba(0,0,0,0.5) 308deg,rgba(0,0,0,1) 328deg,rgba(0,0,0,1) 360deg);"></div>
<div class="l" style="background:radial-gradient(circle at 50% 50%,#7606a6 0px,#7606a6 22px,rgba(118,6,166,0) 23.6px);"></div>
</div>
<div class="vg"></div>
</div>
<div class="bk" style="left:390.2px;top:477.1px;width:154.8px;height:154.2px"></div>
<div class="sq" style="left:392px;top:499.4px;width:116.5px;height:111.2px">
<div class="ct" style="left:-29.9px;top:-32.4px;transform:scale(1.020,0.980)"><div class="l" style="background:radial-gradient(circle at 50% 50%,#90009f 0px,#90009f 55px,#7a008c 66px,#2a0034 79px);"></div></div>
<div class="tbd"></div>
<div class="ct" style="left:-29.9px;top:-32.4px;transform:scale(1.020,0.980)">
<div class="l" style="background:radial-gradient(circle at 50% 50%,rgba(24,0,32,0) 48px,rgba(24,0,32,0.35) 60px);-webkit-mask-image:conic-gradient(from 0deg at 50% 50%,rgba(0,0,0,1) 0deg,rgba(0,0,0,1) 15deg,rgba(0,0,0,0.5) 38.5deg,rgba(0,0,0,0) 62deg,rgba(0,0,0,0) 118deg,rgba(0,0,0,0.5) 141.5deg,rgba(0,0,0,1) 165deg,rgba(0,0,0,1) 195deg,rgba(0,0,0,0.5) 218.5deg,rgba(0,0,0,0) 242deg,rgba(0,0,0,0) 298deg,rgba(0,0,0,0.5) 321.5deg,rgba(0,0,0,1) 345deg,rgba(0,0,0,1) 360deg);mask-image:conic-gradient(from 0deg at 50% 50%,rgba(0,0,0,1) 0deg,rgba(0,0,0,1) 15deg,rgba(0,0,0,0.5) 38.5deg,rgba(0,0,0,0) 62deg,rgba(0,0,0,0) 118deg,rgba(0,0,0,0.5) 141.5deg,rgba(0,0,0,1) 165deg,rgba(0,0,0,1) 195deg,rgba(0,0,0,0.5) 218.5deg,rgba(0,0,0,0) 242deg,rgba(0,0,0,0) 298deg,rgba(0,0,0,0.5) 321.5deg,rgba(0,0,0,1) 345deg,rgba(0,0,0,1) 360deg);"></div>
<div class="l" style="background:radial-gradient(circle at 50% 50%,rgba(20,0,24,0.64) 44px,rgba(20,0,24,0.8) 54px,rgba(20,0,24,0.8) 76px);-webkit-mask-image:conic-gradient(from 0deg at 50% 50%,rgba(0,0,0,1) 0deg,rgba(0,0,0,1) 5deg,rgba(0,0,0,0.5) 18.5deg,rgba(0,0,0,0) 32deg,rgba(0,0,0,0) 148deg,rgba(0,0,0,0.5) 161.5deg,rgba(0,0,0,1) 175deg,rgba(0,0,0,1) 185deg,rgba(0,0,0,0.5) 198.5deg,rgba(0,0,0,0) 212deg,rgba(0,0,0,0) 328deg,rgba(0,0,0,0.5) 341.5deg,rgba(0,0,0,1) 355deg,rgba(0,0,0,1) 360deg);mask-image:conic-gradient(from 0deg at 50% 50%,rgba(0,0,0,1) 0deg,rgba(0,0,0,1) 5deg,rgba(0,0,0,0.5) 18.5deg,rgba(0,0,0,0) 32deg,rgba(0,0,0,0) 148deg,rgba(0,0,0,0.5) 161.5deg,rgba(0,0,0,1) 175deg,rgba(0,0,0,1) 185deg,rgba(0,0,0,0.5) 198.5deg,rgba(0,0,0,0) 212deg,rgba(0,0,0,0) 328deg,rgba(0,0,0,0.5) 341.5deg,rgba(0,0,0,1) 355deg,rgba(0,0,0,1) 360deg);"></div>
<div class="l" style="background:radial-gradient(circle at 50% 50%,rgba(14,8,238,0) 45px,rgba(14,8,238,0.9) 46.5px,rgba(14,8,238,0.85) 49.6px,rgba(88,0,192,0.33) 52.75px,rgba(88,0,192,0) 55.9px);-webkit-mask-image:conic-gradient(from 90deg at 50% 50%,rgba(0,0,0,1) 0deg,rgba(0,0,0,1) 40deg,rgba(0,0,0,0.5) 57deg,rgba(0,0,0,0) 74deg,rgba(0,0,0,0) 106deg,rgba(0,0,0,0.5) 123deg,rgba(0,0,0,1) 140deg,rgba(0,0,0,1) 220deg,rgba(0,0,0,0.5) 237deg,rgba(0,0,0,0) 254deg,rgba(0,0,0,0) 286deg,rgba(0,0,0,0.5) 303deg,rgba(0,0,0,1) 320deg,rgba(0,0,0,1) 360deg);mask-image:conic-gradient(from 90deg at 50% 50%,rgba(0,0,0,1) 0deg,rgba(0,0,0,1) 40deg,rgba(0,0,0,0.5) 57deg,rgba(0,0,0,0) 74deg,rgba(0,0,0,0) 106deg,rgba(0,0,0,0.5) 123deg,rgba(0,0,0,1) 140deg,rgba(0,0,0,1) 220deg,rgba(0,0,0,0.5) 237deg,rgba(0,0,0,0) 254deg,rgba(0,0,0,0) 286deg,rgba(0,0,0,0.5) 303deg,rgba(0,0,0,1) 320deg,rgba(0,0,0,1) 360deg);"></div>
<div class="l" style="background:radial-gradient(circle at 50% 50%,rgba(14,8,238,0) 45px,rgba(14,8,238,0.95) 46.5px,rgba(14,8,238,0.95) 53.2px,rgba(88,0,192,0.43) 56.08px,rgba(88,0,192,0) 59.5px);-webkit-mask-image:conic-gradient(from 90deg at 50% 50%,rgba(0,0,0,1) 0deg,rgba(0,0,0,1) 20deg,rgba(0,0,0,0.5) 39deg,rgba(0,0,0,0) 58deg,rgba(0,0,0,0) 122deg,rgba(0,0,0,0.5) 141deg,rgba(0,0,0,1) 160deg,rgba(0,0,0,1) 200deg,rgba(0,0,0,0.5) 219deg,rgba(0,0,0,0) 238deg,rgba(0,0,0,0) 302deg,rgba(0,0,0,0.5) 321deg,rgba(0,0,0,1) 340deg,rgba(0,0,0,1) 360deg);mask-image:conic-gradient(from 90deg at 50% 50%,rgba(0,0,0,1) 0deg,rgba(0,0,0,1) 20deg,rgba(0,0,0,0.5) 39deg,rgba(0,0,0,0) 58deg,rgba(0,0,0,0) 122deg,rgba(0,0,0,0.5) 141deg,rgba(0,0,0,1) 160deg,rgba(0,0,0,1) 200deg,rgba(0,0,0,0.5) 219deg,rgba(0,0,0,0) 238deg,rgba(0,0,0,0) 302deg,rgba(0,0,0,0.5) 321deg,rgba(0,0,0,1) 340deg,rgba(0,0,0,1) 360deg);"></div>
<div class="l" style="background:radial-gradient(circle at 50% 50%,rgba(0,164,216,0) 45.5px,rgba(0,164,216,0.85) 46.6px,rgba(0,164,216,0.51) 47.6px,rgba(0,164,216,0) 49px);-webkit-mask-image:conic-gradient(from 90deg at 50% 50%,rgba(0,0,0,1) 0deg,rgba(0,0,0,1) 14deg,rgba(0,0,0,0.5) 31deg,rgba(0,0,0,0) 48deg,rgba(0,0,0,0) 132deg,rgba(0,0,0,0.5) 149deg,rgba(0,0,0,1) 166deg,rgba(0,0,0,1) 194deg,rgba(0,0,0,0.5) 211deg,rgba(0,0,0,0) 228deg,rgba(0,0,0,0) 312deg,rgba(0,0,0,0.5) 329deg,rgba(0,0,0,1) 346deg,rgba(0,0,0,1) 360deg);mask-image:conic-gradient(from 90deg at 50% 50%,rgba(0,0,0,1) 0deg,rgba(0,0,0,1) 14deg,rgba(0,0,0,0.5) 31deg,rgba(0,0,0,0) 48deg,rgba(0,0,0,0) 132deg,rgba(0,0,0,0.5) 149deg,rgba(0,0,0,1) 166deg,rgba(0,0,0,1) 194deg,rgba(0,0,0,0.5) 211deg,rgba(0,0,0,0) 228deg,rgba(0,0,0,0) 312deg,rgba(0,0,0,0.5) 329deg,rgba(0,0,0,1) 346deg,rgba(0,0,0,1) 360deg);"></div>
<div class="l" style="background:radial-gradient(circle at 50% 50%,#7c0092 0px,#7c0092 45.5px,rgba(124,0,146,0) 46.5px);"></div>
<div class="l" style="background:radial-gradient(circle at 50% 50%,rgba(42,6,52,0) 33px,#2a0634 34px,#2a0634 45.5px,rgba(42,6,52,0) 46.5px);"></div>
<div class="l" style="background:radial-gradient(circle at 50% 50%,rgba(114,10,140,0) 33.3px,rgba(114,10,140,0.35) 34.3px,rgba(114,10,140,0.35) 45.2px,rgba(114,10,140,0) 46.2px);-webkit-mask-image:conic-gradient(from 0deg at 50% 50%,rgba(0,0,0,1) 0deg,rgba(0,0,0,1) 28deg,rgba(0,0,0,0.5) 50deg,rgba(0,0,0,0) 72deg,rgba(0,0,0,0) 108deg,rgba(0,0,0,0.5) 130deg,rgba(0,0,0,1) 152deg,rgba(0,0,0,1) 208deg,rgba(0,0,0,0.5) 230deg,rgba(0,0,0,0) 252deg,rgba(0,0,0,0) 288deg,rgba(0,0,0,0.5) 310deg,rgba(0,0,0,1) 332deg,rgba(0,0,0,1) 360deg);mask-image:conic-gradient(from 0deg at 50% 50%,rgba(0,0,0,1) 0deg,rgba(0,0,0,1) 28deg,rgba(0,0,0,0.5) 50deg,rgba(0,0,0,0) 72deg,rgba(0,0,0,0) 108deg,rgba(0,0,0,0.5) 130deg,rgba(0,0,0,1) 152deg,rgba(0,0,0,1) 208deg,rgba(0,0,0,0.5) 230deg,rgba(0,0,0,0) 252deg,rgba(0,0,0,0) 288deg,rgba(0,0,0,0.5) 310deg,rgba(0,0,0,1) 332deg,rgba(0,0,0,1) 360deg);"></div>
<div class="l" style="background:radial-gradient(circle at 50% 50%,rgba(14,0,18,0) 33px,rgba(14,0,18,0.6) 34px,rgba(14,0,18,0.6) 45.5px,rgba(14,0,18,0) 46.5px);-webkit-mask-image:conic-gradient(from 90deg at 50% 50%,rgba(0,0,0,1) 0deg,rgba(0,0,0,1) 22deg,rgba(0,0,0,0.5) 40deg,rgba(0,0,0,0) 58deg,rgba(0,0,0,0) 122deg,rgba(0,0,0,0.5) 140deg,rgba(0,0,0,1) 158deg,rgba(0,0,0,1) 202deg,rgba(0,0,0,0.5) 220deg,rgba(0,0,0,0) 238deg,rgba(0,0,0,0) 302deg,rgba(0,0,0,0.5) 320deg,rgba(0,0,0,1) 338deg,rgba(0,0,0,1) 360deg);mask-image:conic-gradient(from 90deg at 50% 50%,rgba(0,0,0,1) 0deg,rgba(0,0,0,1) 22deg,rgba(0,0,0,0.5) 40deg,rgba(0,0,0,0) 58deg,rgba(0,0,0,0) 122deg,rgba(0,0,0,0.5) 140deg,rgba(0,0,0,1) 158deg,rgba(0,0,0,1) 202deg,rgba(0,0,0,0.5) 220deg,rgba(0,0,0,0) 238deg,rgba(0,0,0,0) 302deg,rgba(0,0,0,0.5) 320deg,rgba(0,0,0,1) 338deg,rgba(0,0,0,1) 360deg);"></div>
<div class="l" style="background:radial-gradient(circle at 50% 50%,rgba(25,2,32,0) 20.5px,rgba(25,2,32,0.55) 25px,rgba(25,2,32,0.95) 29px,rgba(25,2,32,0.97) 33px,rgba(25,2,32,0) 34px);-webkit-mask-image:conic-gradient(from 90deg at 50% 50%,rgba(0,0,0,1) 0deg,rgba(0,0,0,1) 32deg,rgba(0,0,0,0.5) 52deg,rgba(0,0,0,0) 72deg,rgba(0,0,0,0) 108deg,rgba(0,0,0,0.5) 128deg,rgba(0,0,0,1) 148deg,rgba(0,0,0,1) 212deg,rgba(0,0,0,0.5) 232deg,rgba(0,0,0,0) 252deg,rgba(0,0,0,0) 288deg,rgba(0,0,0,0.5) 308deg,rgba(0,0,0,1) 328deg,rgba(0,0,0,1) 360deg);mask-image:conic-gradient(from 90deg at 50% 50%,rgba(0,0,0,1) 0deg,rgba(0,0,0,1) 32deg,rgba(0,0,0,0.5) 52deg,rgba(0,0,0,0) 72deg,rgba(0,0,0,0) 108deg,rgba(0,0,0,0.5) 128deg,rgba(0,0,0,1) 148deg,rgba(0,0,0,1) 212deg,rgba(0,0,0,0.5) 232deg,rgba(0,0,0,0) 252deg,rgba(0,0,0,0) 288deg,rgba(0,0,0,0.5) 308deg,rgba(0,0,0,1) 328deg,rgba(0,0,0,1) 360deg);"></div>
<div class="l" style="background:radial-gradient(circle at 50% 50%,#6a0aae 0px,#6a0aae 20.2px,rgba(106,10,174,0) 21.8px);"></div>
</div>
<div class="vg"></div>
</div>
<svg width="550" height="649" viewBox="0 0 550 649">
<defs>
<linearGradient id="cb" x1="0" y1="0" x2="0" y2="1">
<stop offset="0" stop-color="#ecdcdc"/>
<stop offset="0.02" stop-color="#dca4a4"/>
<stop offset="0.034" stop-color="#e02020"/>
<stop offset="0.06" stop-color="#e80000"/>
<stop offset="0.143" stop-color="#fa0800"/>
<stop offset="0.166" stop-color="#ff5000"/>
<stop offset="0.193" stop-color="#ffa000"/>
<stop offset="0.242" stop-color="#ffd400"/>
<stop offset="0.295" stop-color="#fffc00"/>
<stop offset="0.34" stop-color="#c0f800"/>
<stop offset="0.378" stop-color="#28ec18"/>
<stop offset="0.447" stop-color="#00cc00"/>
<stop offset="0.522" stop-color="#00a000"/>
<stop offset="0.568" stop-color="#00a038"/>
<stop offset="0.6" stop-color="#00a070"/>
<stop offset="0.637" stop-color="#00a0a0"/>
<stop offset="0.69" stop-color="#00a0e0"/>
<stop offset="0.735" stop-color="#0090f0"/>
<stop offset="0.769" stop-color="#0040f0"/>
<stop offset="0.796" stop-color="#0000f0"/>
<stop offset="0.834" stop-color="#0000c4"/>
<stop offset="0.864" stop-color="#4000b4"/>
<stop offset="0.887" stop-color="#9000b0"/>
<stop offset="0.932" stop-color="#9800a8"/>
<stop offset="0.97" stop-color="#500060"/>
<stop offset="1" stop-color="#0c0010"/>
</linearGradient>
<filter id="b4" x="-20%" y="-20%" width="140%" height="140%"><feGaussianBlur stdDeviation="0.4"/></filter>
<filter id="b5" x="-20%" y="-20%" width="140%" height="140%"><feGaussianBlur stdDeviation="0.5"/></filter>
<filter id="b8" x="-20%" y="-20%" width="140%" height="140%"><feGaussianBlur stdDeviation="0.8"/></filter>
<filter id="b12" x="-20%" y="-20%" width="140%" height="140%"><feGaussianBlur stdDeviation="1.2"/></filter>
<filter id="nz" x="0" y="0" width="100%" height="100%"><feTurbulence type="fractalNoise" baseFrequency="0.55" numOctaves="2" seed="7" result="t"/><feColorMatrix in="t" type="matrix" values="0 0 0 0 0.1  0 0 0 0 0.03  0 0 0 0 0.8  0 0 0 3.0 -1.72"/></filter>
<filter id="nzd" x="0" y="0" width="100%" height="100%"><feTurbulence type="fractalNoise" baseFrequency="0.6" numOctaves="2" seed="11" result="t"/><feColorMatrix in="t" type="matrix" values="0 0 0 0 0.06  0 0 0 0 0  0 0 0 0 0.08  0 0 0 3.0 -1.7"/></filter>
<linearGradient id="g1" gradientUnits="userSpaceOnUse" x1="0" y1="-46" x2="0" y2="46"><stop offset="0.07" stop-color="#00a4d8" stop-opacity="0"/><stop offset="0.21" stop-color="#00a4d8" stop-opacity="0.5"/><stop offset="0.36" stop-color="#00a4d8" stop-opacity="1"/><stop offset="0.64" stop-color="#00a4d8" stop-opacity="1"/><stop offset="0.79" stop-color="#00a4d8" stop-opacity="0.5"/><stop offset="0.93" stop-color="#00a4d8" stop-opacity="0"/></linearGradient>
<linearGradient id="g2" gradientUnits="userSpaceOnUse" x1="0" y1="-37" x2="0" y2="37"><stop offset="0.13" stop-color="#00a090" stop-opacity="0"/><stop offset="0.25" stop-color="#00a090" stop-opacity="0.5"/><stop offset="0.38" stop-color="#00a090" stop-opacity="1"/><stop offset="0.62" stop-color="#00a090" stop-opacity="1"/><stop offset="0.75" stop-color="#00a090" stop-opacity="0.5"/><stop offset="0.88" stop-color="#00a090" stop-opacity="0"/></linearGradient>
<linearGradient id="g3" gradientUnits="userSpaceOnUse" x1="0" y1="-46.7" x2="0" y2="46.7"><stop offset="0.13" stop-color="#00a4d8" stop-opacity="0"/><stop offset="0.25" stop-color="#00a4d8" stop-opacity="0.5"/><stop offset="0.38" stop-color="#00a4d8" stop-opacity="1"/><stop offset="0.62" stop-color="#00a4d8" stop-opacity="1"/><stop offset="0.75" stop-color="#00a4d8" stop-opacity="0.5"/><stop offset="0.88" stop-color="#00a4d8" stop-opacity="0"/></linearGradient>
<linearGradient id="g4" gradientUnits="userSpaceOnUse" x1="0" y1="-39" x2="0" y2="39"><stop offset="0.13" stop-color="#00a090" stop-opacity="0"/><stop offset="0.25" stop-color="#00a090" stop-opacity="0.5"/><stop offset="0.38" stop-color="#00a090" stop-opacity="1"/><stop offset="0.62" stop-color="#00a090" stop-opacity="1"/><stop offset="0.75" stop-color="#00a090" stop-opacity="0.5"/><stop offset="0.88" stop-color="#00a090" stop-opacity="0"/></linearGradient>
<linearGradient id="g5" gradientUnits="userSpaceOnUse" x1="0" y1="-44.4" x2="0" y2="44.4"><stop offset="0.13" stop-color="#00a4d8" stop-opacity="0"/><stop offset="0.25" stop-color="#00a4d8" stop-opacity="0.5"/><stop offset="0.38" stop-color="#00a4d8" stop-opacity="1"/><stop offset="0.62" stop-color="#00a4d8" stop-opacity="1"/><stop offset="0.75" stop-color="#00a4d8" stop-opacity="0.5"/><stop offset="0.88" stop-color="#00a4d8" stop-opacity="0"/></linearGradient>
<linearGradient id="g6" gradientUnits="userSpaceOnUse" x1="0" y1="-39.5" x2="0" y2="39.5"><stop offset="0.18" stop-color="#00a090" stop-opacity="0"/><stop offset="0.29" stop-color="#00a090" stop-opacity="0.5"/><stop offset="0.39" stop-color="#00a090" stop-opacity="1"/><stop offset="0.61" stop-color="#00a090" stop-opacity="1"/><stop offset="0.71" stop-color="#00a090" stop-opacity="0.5"/><stop offset="0.82" stop-color="#00a090" stop-opacity="0"/></linearGradient>
<linearGradient id="g7" gradientUnits="userSpaceOnUse" x1="0" y1="-47.8" x2="0" y2="47.8"><stop offset="0" stop-color="#20c090" stop-opacity="0"/><stop offset="0.16" stop-color="#20c090" stop-opacity="0.5"/><stop offset="0.32" stop-color="#20c090" stop-opacity="1"/><stop offset="0.68" stop-color="#20c090" stop-opacity="1"/><stop offset="0.84" stop-color="#20c090" stop-opacity="0.5"/><stop offset="1" stop-color="#20c090" stop-opacity="0"/></linearGradient>
<linearGradient id="g8" gradientUnits="userSpaceOnUse" x1="0" y1="-45" x2="0" y2="45"><stop offset="0.13" stop-color="#00a4d8" stop-opacity="0"/><stop offset="0.25" stop-color="#00a4d8" stop-opacity="0.5"/><stop offset="0.38" stop-color="#00a4d8" stop-opacity="1"/><stop offset="0.62" stop-color="#00a4d8" stop-opacity="1"/><stop offset="0.75" stop-color="#00a4d8" stop-opacity="0.5"/><stop offset="0.88" stop-color="#00a4d8" stop-opacity="0"/></linearGradient>
<linearGradient id="g9" gradientUnits="userSpaceOnUse" x1="0" y1="-36" x2="0" y2="36"><stop offset="0.18" stop-color="#00a090" stop-opacity="0"/><stop offset="0.29" stop-color="#00a090" stop-opacity="0.5"/><stop offset="0.39" stop-color="#00a090" stop-opacity="1"/><stop offset="0.61" stop-color="#00a090" stop-opacity="1"/><stop offset="0.71" stop-color="#00a090" stop-opacity="0.5"/><stop offset="0.82" stop-color="#00a090" stop-opacity="0"/></linearGradient>
<linearGradient id="g10" gradientUnits="userSpaceOnUse" x1="0" y1="-44.4" x2="0" y2="44.4"><stop offset="0.13" stop-color="#00a4d8" stop-opacity="0"/><stop offset="0.25" stop-color="#00a4d8" stop-opacity="0.5"/><stop offset="0.38" stop-color="#00a4d8" stop-opacity="1"/><stop offset="0.62" stop-color="#00a4d8" stop-opacity="1"/><stop offset="0.75" stop-color="#00a4d8" stop-opacity="0.5"/><stop offset="0.88" stop-color="#00a4d8" stop-opacity="0"/></linearGradient>
<linearGradient id="g11" gradientUnits="userSpaceOnUse" x1="0" y1="-36.3" x2="0" y2="36.3"><stop offset="0.18" stop-color="#00a090" stop-opacity="0"/><stop offset="0.29" stop-color="#00a090" stop-opacity="0.5"/><stop offset="0.39" stop-color="#00a090" stop-opacity="1"/><stop offset="0.61" stop-color="#00a090" stop-opacity="1"/><stop offset="0.71" stop-color="#00a090" stop-opacity="0.5"/><stop offset="0.82" stop-color="#00a090" stop-opacity="0"/></linearGradient>
<linearGradient id="g12" gradientUnits="userSpaceOnUse" x1="0" y1="-45.9" x2="0" y2="45.9"><stop offset="0.02" stop-color="#20c0a0" stop-opacity="0"/><stop offset="0.18" stop-color="#20c0a0" stop-opacity="0.5"/><stop offset="0.34" stop-color="#20c0a0" stop-opacity="1"/><stop offset="0.66" stop-color="#20c0a0" stop-opacity="1"/><stop offset="0.82" stop-color="#20c0a0" stop-opacity="0.5"/><stop offset="0.98" stop-color="#20c0a0" stop-opacity="0"/></linearGradient>
<linearGradient id="g13" gradientUnits="userSpaceOnUse" x1="0" y1="-45.9" x2="0" y2="45.9"><stop offset="0.32" stop-color="#e0e040" stop-opacity="0"/><stop offset="0.38" stop-color="#e0e040" stop-opacity="0.5"/><stop offset="0.44" stop-color="#e0e040" stop-opacity="1"/><stop offset="0.56" stop-color="#e0e040" stop-opacity="1"/><stop offset="0.62" stop-color="#e0e040" stop-opacity="0.5"/><stop offset="0.68" stop-color="#e0e040" stop-opacity="0"/></linearGradient>
<linearGradient id="g14" gradientUnits="userSpaceOnUse" x1="0" y1="-44.7" x2="0" y2="44.7"><stop offset="0.13" stop-color="#00a4d8" stop-opacity="0"/><stop offset="0.25" stop-color="#00a4d8" stop-opacity="0.5"/><stop offset="0.38" stop-color="#00a4d8" stop-opacity="1"/><stop offset="0.62" stop-color="#00a4d8" stop-opacity="1"/><stop offset="0.75" stop-color="#00a4d8" stop-opacity="0.5"/><stop offset="0.88" stop-color="#00a4d8" stop-opacity="0"/></linearGradient>
<linearGradient id="g15" gradientUnits="userSpaceOnUse" x1="0" y1="-36.5" x2="0" y2="36.5"><stop offset="0.18" stop-color="#00a090" stop-opacity="0"/><stop offset="0.29" stop-color="#00a090" stop-opacity="0.5"/><stop offset="0.39" stop-color="#00a090" stop-opacity="1"/><stop offset="0.61" stop-color="#00a090" stop-opacity="1"/><stop offset="0.71" stop-color="#00a090" stop-opacity="0.5"/><stop offset="0.82" stop-color="#00a090" stop-opacity="0"/></linearGradient>
<linearGradient id="g16" gradientUnits="userSpaceOnUse" x1="0" y1="-46" x2="0" y2="46"><stop offset="0.13" stop-color="#00a4d8" stop-opacity="0"/><stop offset="0.25" stop-color="#00a4d8" stop-opacity="0.5"/><stop offset="0.38" stop-color="#00a4d8" stop-opacity="1"/><stop offset="0.62" stop-color="#00a4d8" stop-opacity="1"/><stop offset="0.75" stop-color="#00a4d8" stop-opacity="0.5"/><stop offset="0.88" stop-color="#00a4d8" stop-opacity="0"/></linearGradient>
<linearGradient id="g17" gradientUnits="userSpaceOnUse" x1="0" y1="-33.5" x2="0" y2="33.5"><stop offset="0.24" stop-color="#00a090" stop-opacity="0"/><stop offset="0.33" stop-color="#00a090" stop-opacity="0.35"/><stop offset="0.41" stop-color="#00a090" stop-opacity="0.7"/><stop offset="0.59" stop-color="#00a090" stop-opacity="0.7"/><stop offset="0.67" stop-color="#00a090" stop-opacity="0.35"/><stop offset="0.76" stop-color="#00a090" stop-opacity="0"/></linearGradient>
<clipPath id="p1c"><rect x="17.4" y="164.4" width="112.5" height="111.5"/></clipPath>
<clipPath id="p2c"><rect x="206.3" y="166" width="111.5" height="111.2"/></clipPath>
<clipPath id="p3c"><rect x="397.6" y="165.2" width="112" height="111.4"/></clipPath>
<clipPath id="p4c"><rect x="10.9" y="330.6" width="118.7" height="111.3"/></clipPath>
<clipPath id="p5c"><rect x="205" y="331.4" width="111.3" height="110.8"/></clipPath>
<clipPath id="p6c"><rect x="397.6" y="331" width="112.2" height="111"/></clipPath>
<clipPath id="p7c"><rect x="10.8" y="499.6" width="117.6" height="111.3"/></clipPath>
<clipPath id="p8c"><rect x="202.9" y="498" width="113.9" height="111.3"/></clipPath>
<clipPath id="p9c"><rect x="392" y="499.4" width="116.5" height="111.2"/></clipPath>
</defs>
<g font-family="'Liberation Sans', sans-serif">
<path d="M33.5 5.5V106.6H154" fill="none" stroke="#6a6a6a" stroke-width="0.7"/>
<path d="M33.5 99.6h-1.8" stroke="#6a6a6a" stroke-width="0.6"/>
<text x="31.2" y="101.2" font-size="4.6" text-anchor="end" fill="#262626" textLength="19.2" lengthAdjust="spacingAndGlyphs">0.00E+00</text>
<path d="M33.5 93.05h-1" stroke="#6a6a6a" stroke-width="0.5"/>
<path d="M33.5 86.5h-1.8" stroke="#6a6a6a" stroke-width="0.6"/>
<text x="31.2" y="88.1" font-size="4.6" text-anchor="end" fill="#262626" textLength="19.2" lengthAdjust="spacingAndGlyphs">5.00E-15</text>
<path d="M33.5 79.95h-1" stroke="#6a6a6a" stroke-width="0.5"/>
<path d="M33.5 73.4h-1.8" stroke="#6a6a6a" stroke-width="0.6"/>
<text x="31.2" y="75" font-size="4.6" text-anchor="end" fill="#262626" textLength="19.2" lengthAdjust="spacingAndGlyphs">1.00E-14</text>
<path d="M33.5 66.85h-1" stroke="#6a6a6a" stroke-width="0.5"/>
<path d="M33.5 60.3h-1.8" stroke="#6a6a6a" stroke-width="0.6"/>
<text x="31.2" y="61.9" font-size="4.6" text-anchor="end" fill="#262626" textLength="19.2" lengthAdjust="spacingAndGlyphs">1.50E-14</text>
<path d="M33.5 53.75h-1" stroke="#6a6a6a" stroke-width="0.5"/>
<path d="M33.5 47.2h-1.8" stroke="#6a6a6a" stroke-width="0.6"/>
<text x="31.2" y="48.8" font-size="4.6" text-anchor="end" fill="#262626" textLength="19.2" lengthAdjust="spacingAndGlyphs">2.00E-14</text>
<path d="M33.5 40.65h-1" stroke="#6a6a6a" stroke-width="0.5"/>
<path d="M33.5 34.1h-1.8" stroke="#6a6a6a" stroke-width="0.6"/>
<text x="31.2" y="35.7" font-size="4.6" text-anchor="end" fill="#262626" textLength="19.2" lengthAdjust="spacingAndGlyphs">2.50E-14</text>
<path d="M33.5 27.55h-1" stroke="#6a6a6a" stroke-width="0.5"/>
<path d="M33.5 21h-1.8" stroke="#6a6a6a" stroke-width="0.6"/>
<text x="31.2" y="22.6" font-size="4.6" text-anchor="end" fill="#262626" textLength="19.2" lengthAdjust="spacingAndGlyphs">3.00E-14</text>
<path d="M33.5 14.45h-1" stroke="#6a6a6a" stroke-width="0.5"/>
<path d="M33.5 7.9h-1.8" stroke="#6a6a6a" stroke-width="0.6"/>
<text x="31.2" y="9.5" font-size="4.6" text-anchor="end" fill="#262626" textLength="19.2" lengthAdjust="spacingAndGlyphs">3.50E-14</text>
<path d="M33.5 106.6v1.8" stroke="#6a6a6a" stroke-width="0.6"/>
<text x="33.5" y="114.4" font-size="5.6" text-anchor="middle" fill="#262626">400</text>
<path d="M48.5 106.6v1" stroke="#6a6a6a" stroke-width="0.5"/>
<path d="M63.5 106.6v1.8" stroke="#6a6a6a" stroke-width="0.6"/>
<text x="63.5" y="114.4" font-size="5.6" text-anchor="middle" fill="#262626">500</text>
<path d="M78.5 106.6v1" stroke="#6a6a6a" stroke-width="0.5"/>
<path d="M93.5 106.6v1.8" stroke="#6a6a6a" stroke-width="0.6"/>
<text x="93.5" y="114.4" font-size="5.6" text-anchor="middle" fill="#262626">600</text>
<path d="M108.5 106.6v1" stroke="#6a6a6a" stroke-width="0.5"/>
<path d="M123.5 106.6v1.8" stroke="#6a6a6a" stroke-width="0.6"/>
<text x="123.5" y="114.4" font-size="5.6" text-anchor="middle" fill="#262626">700</text>
<path d="M138.5 106.6v1" stroke="#6a6a6a" stroke-width="0.5"/>
<path d="M153.5 106.6v1.8" stroke="#6a6a6a" stroke-width="0.6"/>
<text x="153.5" y="114.4" font-size="5.6" text-anchor="middle" fill="#262626">800</text>
<text x="93.5" y="124.1" font-size="6.6" text-anchor="middle" fill="#262626">Wavelength (nm)</text>
<text transform="translate(8.4 57) rotate(-90)" font-size="6.6" text-anchor="middle" fill="#262626" textLength="46.5" lengthAdjust="spacingAndGlyphs">Extinction (a.u.)</text>
<path d="M33.55 91.71C34.92 91.98 38.86 93.01 41.82 93.36C44.77 93.72 48.12 93.95 51.27 93.84C54.42 93.72 57.58 93.32 60.73 92.65C63.88 91.98 67.62 90.57 70.18 89.82C72.74 89.07 74.63 88.48 76.09 88.16C77.55 87.85 77.94 87.65 78.93 87.93C79.91 88.2 80.7 88.71 82 89.82C83.3 90.92 85.15 93.28 86.73 94.54C88.3 95.81 89.09 96.67 91.45 97.38C93.82 98.09 95.39 98.44 100.91 98.8C106.42 99.15 115.88 99.39 124.54 99.51C133.21 99.63 148.18 99.51 152.91 99.51" fill="none" stroke="#4d4d4d" stroke-width="0.85" stroke-linejoin="round"/>
<path d="M33.55 82.02C34.92 82.45 38.86 83.91 41.82 84.62C44.77 85.33 48.12 86.11 51.27 86.27C54.42 86.43 57.58 85.96 60.73 85.56C63.88 85.17 67.42 84.58 70.18 83.91C72.94 83.24 75.11 82.92 77.27 81.54C79.44 80.17 81.41 77.8 83.18 75.64C84.95 73.47 86.61 70.4 87.91 68.54C89.21 66.69 90 65.12 90.98 64.53C91.97 63.94 92.75 63.94 93.82 65C94.88 66.06 96.18 68.35 97.36 70.91C98.54 73.47 99.53 77.21 100.91 80.36C102.29 83.51 103.67 87.45 105.64 89.82C107.61 92.18 109.58 93.36 112.73 94.54C115.88 95.73 120.21 96.36 124.54 96.91C128.88 97.46 134 97.62 138.73 97.85C143.45 98.09 150.54 98.25 152.91 98.33" fill="none" stroke="#f04848" stroke-width="0.85" stroke-linejoin="round"/>
<path d="M33.55 66.89C34.92 67.56 38.47 69.57 41.82 70.91C45.17 72.25 49.7 74.14 53.64 74.93C57.58 75.71 61.51 75.4 65.45 75.64C69.39 75.87 74.71 76.27 77.27 76.34C79.83 76.42 79.64 76.62 80.82 76.11C82 75.6 82.98 75.32 84.36 73.27C85.74 71.22 87.71 68.15 89.09 63.82C90.47 59.48 91.45 53.18 92.64 47.27C93.82 41.36 95 33.01 96.18 28.36C97.36 23.71 98.74 20.37 99.73 19.38C100.71 18.4 101.11 19.38 102.09 22.45C103.08 25.53 104.26 31.71 105.64 37.82C107.01 43.92 108.79 53.18 110.36 59.09C111.94 65 113.51 69.33 115.09 73.27C116.67 77.21 118.24 80.36 119.82 82.73C121.39 85.09 122.18 86.08 124.54 87.45C126.91 88.83 130.85 90.09 134 91C137.15 91.91 140.3 92.18 143.45 92.89C146.61 93.6 151.33 94.86 152.91 95.25" fill="none" stroke="#3f7df5" stroke-width="0.85" stroke-linejoin="round"/>
<path d="M130.5 16H141" stroke="#4d4d4d" stroke-width="0.9"/>
<text x="143" y="17.9" font-size="5.4" fill="#262626">20nm</text>
<path d="M130.5 22H141" stroke="#f04848" stroke-width="0.9"/>
<text x="143" y="23.9" font-size="5.4" fill="#262626">40nm</text>
<path d="M130.5 27.9H141" stroke="#3f7df5" stroke-width="0.9"/>
<text x="143" y="29.8" font-size="5.4" fill="#262626">60nm</text>
<path d="M223.8 6.2V107.5H349.1" fill="none" stroke="#6a6a6a" stroke-width="0.7"/>
<path d="M223.8 100h-1.8" stroke="#6a6a6a" stroke-width="0.6"/>
<text x="220.4" y="101.6" font-size="4.6" text-anchor="end" fill="#262626" textLength="19.2" lengthAdjust="spacingAndGlyphs">0.00E+00</text>
<path d="M223.8 92.78h-1" stroke="#6a6a6a" stroke-width="0.5"/>
<path d="M223.8 85.55h-1.8" stroke="#6a6a6a" stroke-width="0.6"/>
<text x="220.4" y="87.15" font-size="4.6" text-anchor="end" fill="#262626" textLength="19.2" lengthAdjust="spacingAndGlyphs">2.00E-15</text>
<path d="M223.8 78.33h-1" stroke="#6a6a6a" stroke-width="0.5"/>
<path d="M223.8 71.1h-1.8" stroke="#6a6a6a" stroke-width="0.6"/>
<text x="220.4" y="72.7" font-size="4.6" text-anchor="end" fill="#262626" textLength="19.2" lengthAdjust="spacingAndGlyphs">4.00E-15</text>
<path d="M223.8 63.87h-1" stroke="#6a6a6a" stroke-width="0.5"/>
<path d="M223.8 56.65h-1.8" stroke="#6a6a6a" stroke-width="0.6"/>
<text x="220.4" y="58.25" font-size="4.6" text-anchor="end" fill="#262626" textLength="19.2" lengthAdjust="spacingAndGlyphs">6.00E-15</text>
<path d="M223.8 49.43h-1" stroke="#6a6a6a" stroke-width="0.5"/>
<path d="M223.8 42.2h-1.8" stroke="#6a6a6a" stroke-width="0.6"/>
<text x="220.4" y="43.8" font-size="4.6" text-anchor="end" fill="#262626" textLength="19.2" lengthAdjust="spacingAndGlyphs">8.00E-15</text>
<path d="M223.8 34.98h-1" stroke="#6a6a6a" stroke-width="0.5"/>
<path d="M223.8 27.75h-1.8" stroke="#6a6a6a" stroke-width="0.6"/>
<text x="220.4" y="29.35" font-size="4.6" text-anchor="end" fill="#262626" textLength="19.2" lengthAdjust="spacingAndGlyphs">1.00E-14</text>
<path d="M223.8 20.52h-1" stroke="#6a6a6a" stroke-width="0.5"/>
<path d="M223.8 13.3h-1.8" stroke="#6a6a6a" stroke-width="0.6"/>
<text x="220.4" y="14.9" font-size="4.6" text-anchor="end" fill="#262626" textLength="19.2" lengthAdjust="spacingAndGlyphs">1.20E-14</text>
<path d="M223.8 107.5v1.8" stroke="#6a6a6a" stroke-width="0.6"/>
<text x="223.8" y="115.2" font-size="5.6" text-anchor="middle" fill="#262626">400</text>
<path d="M239.4 107.5v1" stroke="#6a6a6a" stroke-width="0.5"/>
<path d="M255 107.5v1.8" stroke="#6a6a6a" stroke-width="0.6"/>
<text x="255" y="115.2" font-size="5.6" text-anchor="middle" fill="#262626">500</text>
<path d="M270.6 107.5v1" stroke="#6a6a6a" stroke-width="0.5"/>
<path d="M286.2 107.5v1.8" stroke="#6a6a6a" stroke-width="0.6"/>
<text x="286.2" y="115.2" font-size="5.6" text-anchor="middle" fill="#262626">600</text>
<path d="M301.8 107.5v1" stroke="#6a6a6a" stroke-width="0.5"/>
<path d="M317.4 107.5v1.8" stroke="#6a6a6a" stroke-width="0.6"/>
<text x="317.4" y="115.2" font-size="5.6" text-anchor="middle" fill="#262626">700</text>
<path d="M333 107.5v1" stroke="#6a6a6a" stroke-width="0.5"/>
<path d="M348.6 107.5v1.8" stroke="#6a6a6a" stroke-width="0.6"/>
<text x="348.6" y="115.2" font-size="5.6" text-anchor="middle" fill="#262626">800</text>
<text x="286.2" y="125.2" font-size="6.6" text-anchor="middle" fill="#262626">Wavelength (nm)</text>
<text transform="translate(197.8 57) rotate(-90)" font-size="6.6" text-anchor="middle" fill="#262626" textLength="46.5" lengthAdjust="spacingAndGlyphs">Extinction (a.u.)</text>
<path d="M223.68 91.31C225.11 91.56 228.8 92.42 232.27 92.78C235.75 93.15 240.05 93.44 244.55 93.52C249.05 93.6 254.36 93.4 259.27 93.27C264.18 93.15 269.5 92.91 274 92.78C278.5 92.66 283.61 92.78 286.27 92.54C288.93 92.29 288.73 92.62 289.96 91.31C291.18 90 292.41 86.89 293.64 84.68C294.86 82.47 296.17 79.61 297.32 78.06C298.47 76.5 299.49 75.6 300.51 75.36C301.53 75.11 302.35 75.44 303.46 76.58C304.56 77.73 305.91 80.47 307.14 82.23C308.37 83.99 309.59 85.91 310.82 87.14C312.05 88.37 312.87 89.06 314.5 89.59C316.14 90.12 319 90.04 320.64 90.33C322.27 90.62 322.89 90.7 324.32 91.31C325.75 91.92 327.39 93.48 329.23 94.01C331.07 94.54 333.12 94.54 335.37 94.5C337.62 94.46 340.52 93.72 342.73 93.77C344.94 93.81 347.64 94.58 348.62 94.75" fill="none" stroke="#4d4d4d" stroke-width="0.85" stroke-linejoin="round"/>
<path d="M223.68 79.77C225.11 80.31 229.2 82.15 232.27 82.97C235.34 83.78 238.82 84.52 242.09 84.68C245.36 84.85 248.64 84.48 251.91 83.95C255.18 83.42 258.86 82.47 261.73 81.49C264.59 80.51 266.64 79.98 269.09 78.06C271.55 76.13 274.41 72.94 276.46 69.96C278.5 66.97 280.06 63.21 281.36 60.14C282.67 57.07 283.41 53.47 284.31 51.55C285.21 49.62 286.03 48.81 286.76 48.6C287.5 48.4 287.99 48.6 288.73 50.32C289.46 52.04 290.36 55.43 291.18 58.91C292 62.39 292.61 67.09 293.64 71.18C294.66 75.27 295.89 80.18 297.32 83.46C298.75 86.73 299.98 88.86 302.23 90.82C304.48 92.78 307.75 94.26 310.82 95.24C313.89 96.22 317.37 96.34 320.64 96.71C323.91 97.08 327.18 97.28 330.46 97.45C333.73 97.61 337.25 97.45 340.27 97.69C343.3 97.94 347.23 98.72 348.62 98.92" fill="none" stroke="#f04848" stroke-width="0.85" stroke-linejoin="round"/>
<path d="M223.68 60.38C224.7 61.16 227.57 63.74 229.82 65.05C232.07 66.36 235.14 67.5 237.18 68.24C239.23 68.97 240.45 69.46 242.09 69.46C243.73 69.46 245.36 68.77 247 68.24C248.64 67.71 250.27 66.81 251.91 66.27C253.55 65.74 254.98 65.66 256.82 65.05C258.66 64.43 261.32 63.41 262.96 62.59C264.59 61.77 265.41 61.36 266.64 60.14C267.86 58.91 269.09 57.48 270.32 55.23C271.55 52.98 272.9 49.71 274 46.64C275.11 43.57 276.13 40.5 276.95 36.82C277.76 33.14 278.3 27.82 278.91 24.55C279.52 21.27 280.14 18.49 280.63 17.18C281.12 15.87 281.41 16.08 281.86 16.69C282.31 17.3 282.67 17.1 283.33 20.86C283.98 24.63 284.88 32.52 285.78 39.27C286.68 46.02 287.62 54.82 288.73 61.36C289.83 67.91 291.18 74.46 292.41 78.55C293.64 82.64 294.66 83.78 296.09 85.91C297.52 88.04 298.96 89.88 301 91.31C303.05 92.74 305.5 93.64 308.37 94.5C311.23 95.36 314.91 96.14 318.18 96.47C321.46 96.79 324.73 96.3 328 96.47C331.27 96.63 334.38 97.08 337.82 97.45C341.26 97.82 346.82 98.47 348.62 98.67" fill="none" stroke="#3f7df5" stroke-width="0.85" stroke-linejoin="round"/>
<path d="M321 19.1H331.7" stroke="#4d4d4d" stroke-width="0.9"/>
<text x="334" y="21" font-size="5.4" fill="#262626">1nm</text>
<path d="M321 25.8H331.7" stroke="#f04848" stroke-width="0.9"/>
<text x="334" y="27.7" font-size="5.4" fill="#262626">5nm</text>
<path d="M321 31.9H331.7" stroke="#3f7df5" stroke-width="0.9"/>
<text x="334" y="33.8" font-size="5.4" fill="#262626">10nm</text>
<path d="M415.1 3.6V108.3H542" fill="none" stroke="#6a6a6a" stroke-width="0.7"/>
<path d="M415.1 102.6h-1.8" stroke="#6a6a6a" stroke-width="0.6"/>
<text x="411.5" y="104.2" font-size="4.6" text-anchor="end" fill="#262626" textLength="19.2" lengthAdjust="spacingAndGlyphs">0.00E+00</text>
<path d="M415.1 96.8h-1" stroke="#6a6a6a" stroke-width="0.5"/>
<path d="M415.1 91h-1.8" stroke="#6a6a6a" stroke-width="0.6"/>
<text x="411.5" y="92.6" font-size="4.6" text-anchor="end" fill="#262626" textLength="19.2" lengthAdjust="spacingAndGlyphs">2.00E-15</text>
<path d="M415.1 85.2h-1" stroke="#6a6a6a" stroke-width="0.5"/>
<path d="M415.1 79.4h-1.8" stroke="#6a6a6a" stroke-width="0.6"/>
<text x="411.5" y="81" font-size="4.6" text-anchor="end" fill="#262626" textLength="19.2" lengthAdjust="spacingAndGlyphs">4.00E-15</text>
<path d="M415.1 73.6h-1" stroke="#6a6a6a" stroke-width="0.5"/>
<path d="M415.1 67.8h-1.8" stroke="#6a6a6a" stroke-width="0.6"/>
<text x="411.5" y="69.4" font-size="4.6" text-anchor="end" fill="#262626" textLength="19.2" lengthAdjust="spacingAndGlyphs">6.00E-15</text>
<path d="M415.1 62h-1" stroke="#6a6a6a" stroke-width="0.5"/>
<path d="M415.1 56.2h-1.8" stroke="#6a6a6a" stroke-width="0.6"/>
<text x="411.5" y="57.8" font-size="4.6" text-anchor="end" fill="#262626" textLength="19.2" lengthAdjust="spacingAndGlyphs">8.00E-15</text>
<path d="M415.1 50.4h-1" stroke="#6a6a6a" stroke-width="0.5"/>
<path d="M415.1 44.6h-1.8" stroke="#6a6a6a" stroke-width="0.6"/>
<text x="411.5" y="46.2" font-size="4.6" text-anchor="end" fill="#262626" textLength="19.2" lengthAdjust="spacingAndGlyphs">1.00E-14</text>
<path d="M415.1 38.8h-1" stroke="#6a6a6a" stroke-width="0.5"/>
<path d="M415.1 33h-1.8" stroke="#6a6a6a" stroke-width="0.6"/>
<text x="411.5" y="34.6" font-size="4.6" text-anchor="end" fill="#262626" textLength="19.2" lengthAdjust="spacingAndGlyphs">1.20E-14</text>
<path d="M415.1 27.2h-1" stroke="#6a6a6a" stroke-width="0.5"/>
<path d="M415.1 21.4h-1.8" stroke="#6a6a6a" stroke-width="0.6"/>
<text x="411.5" y="23" font-size="4.6" text-anchor="end" fill="#262626" textLength="19.2" lengthAdjust="spacingAndGlyphs">1.40E-14</text>
<path d="M415.1 15.6h-1" stroke="#6a6a6a" stroke-width="0.5"/>
<path d="M415.1 9.8h-1.8" stroke="#6a6a6a" stroke-width="0.6"/>
<text x="411.5" y="11.4" font-size="4.6" text-anchor="end" fill="#262626" textLength="19.2" lengthAdjust="spacingAndGlyphs">1.60E-14</text>
<path d="M415.1 4h-1" stroke="#6a6a6a" stroke-width="0.5"/>
<path d="M415.1 108.3v1.8" stroke="#6a6a6a" stroke-width="0.6"/>
<text x="415.1" y="116" font-size="5.6" text-anchor="middle" fill="#262626">400</text>
<path d="M430.9 108.3v1" stroke="#6a6a6a" stroke-width="0.5"/>
<path d="M446.7 108.3v1.8" stroke="#6a6a6a" stroke-width="0.6"/>
<text x="446.7" y="116" font-size="5.6" text-anchor="middle" fill="#262626">500</text>
<path d="M462.5 108.3v1" stroke="#6a6a6a" stroke-width="0.5"/>
<path d="M478.3 108.3v1.8" stroke="#6a6a6a" stroke-width="0.6"/>
<text x="478.3" y="116" font-size="5.6" text-anchor="middle" fill="#262626">600</text>
<path d="M494.1 108.3v1" stroke="#6a6a6a" stroke-width="0.5"/>
<path d="M509.9 108.3v1.8" stroke="#6a6a6a" stroke-width="0.6"/>
<text x="509.9" y="116" font-size="5.6" text-anchor="middle" fill="#262626">700</text>
<path d="M525.7 108.3v1" stroke="#6a6a6a" stroke-width="0.5"/>
<path d="M541.5 108.3v1.8" stroke="#6a6a6a" stroke-width="0.6"/>
<text x="541.5" y="116" font-size="5.6" text-anchor="middle" fill="#262626">800</text>
<text x="478.3" y="126.5" font-size="6.6" text-anchor="middle" fill="#262626">Wavelength (a.u.)</text>
<text transform="translate(388.7 56.5) rotate(-90)" font-size="6.6" text-anchor="middle" fill="#262626" textLength="46.5" lengthAdjust="spacingAndGlyphs">Extinction (a.u.)</text>
<path d="M415.09 84C416.36 84.42 419.76 85.82 422.73 86.54C425.7 87.27 429.94 88.07 432.91 88.33C435.88 88.58 437.58 88.45 440.55 88.07C443.51 87.69 447.33 86.8 450.73 86.04C454.12 85.27 458.15 84.68 460.91 83.49C463.67 82.3 465.36 80.94 467.27 78.91C469.18 76.87 470.88 73.48 472.36 71.27C473.85 69.07 475.04 66.86 476.18 65.67C477.33 64.48 478.18 64.14 479.24 64.14C480.3 64.14 481.36 64.27 482.54 65.67C483.73 67.07 484.88 69.49 486.36 72.54C487.85 75.6 489.76 80.82 491.45 84C493.15 87.18 494.64 89.64 496.54 91.64C498.45 93.63 500.36 94.9 502.91 95.96C505.45 97.02 508.21 97.45 511.82 98C515.42 98.55 519.62 98.93 524.54 99.27C529.47 99.61 538.54 99.91 541.34 100.04" fill="none" stroke="#4d4d4d" stroke-width="0.85" stroke-linejoin="round"/>
<path d="M415.09 68.22C416.36 68.94 419.97 71.36 422.73 72.54C425.48 73.73 429.52 74.84 431.64 75.34C433.76 75.85 433.97 75.77 435.45 75.6C436.94 75.43 438.42 75.13 440.55 74.33C442.67 73.52 445.85 72.12 448.18 70.76C450.51 69.41 452.64 68.22 454.55 66.18C456.45 64.14 457.94 61.51 459.64 58.55C461.33 55.58 463.33 51.33 464.73 48.36C466.13 45.39 467.1 42.25 468.04 40.73C468.97 39.2 469.61 38.99 470.33 39.2C471.05 39.41 471.6 39.84 472.36 42C473.13 44.16 474.06 48.58 474.91 52.18C475.76 55.79 476.39 59.18 477.45 63.64C478.51 68.09 479.79 74.67 481.27 78.91C482.76 83.15 484.24 86.46 486.36 89.09C488.48 91.72 491.03 93.25 494 94.69C496.97 96.13 500.36 96.98 504.18 97.74C508 98.51 512.67 98.89 516.91 99.27C521.15 99.65 525.56 99.82 529.64 100.04C533.71 100.25 539.39 100.46 541.34 100.54" fill="none" stroke="#f04848" stroke-width="0.85" stroke-linejoin="round"/>
<path d="M415.09 44.55C415.94 45.39 418.27 47.94 420.18 49.64C422.09 51.33 424.42 53.45 426.55 54.73C428.67 56 431 57.06 432.91 57.27C434.82 57.48 436.3 57.06 438 56C439.7 54.94 441.39 52.27 443.09 50.91C444.79 49.55 446.48 49.34 448.18 47.85C449.88 46.37 451.58 44.04 453.27 42C454.97 39.96 456.88 38.18 458.36 35.64C459.85 33.09 461.12 29.48 462.18 26.73C463.24 23.97 463.96 20.87 464.73 19.09C465.49 17.31 466.13 16.33 466.76 16.04C467.4 15.74 467.82 15.74 468.55 17.31C469.27 18.88 470.24 21.13 471.09 25.45C471.94 29.78 472.7 37.33 473.64 43.27C474.57 49.21 475.63 55.79 476.69 61.09C477.75 66.39 478.6 70.85 480 75.09C481.4 79.33 483.18 83.58 485.09 86.54C487 89.51 489.12 91.3 491.45 92.91C493.79 94.52 496.12 95.33 499.09 96.22C502.06 97.11 505.88 98 509.27 98.25C512.67 98.51 516.06 97.53 519.45 97.74C522.85 97.96 525.99 99.23 529.64 99.53C533.28 99.82 539.39 99.53 541.34 99.53" fill="none" stroke="#3f7df5" stroke-width="0.85" stroke-linejoin="round"/>
<path d="M509.3 19.9H519.4" stroke="#4d4d4d" stroke-width="0.9"/>
<text x="522" y="21.8" font-size="5.4" fill="#262626">1nm</text>
<path d="M509.3 26.7H519.4" stroke="#f04848" stroke-width="0.9"/>
<text x="522" y="28.6" font-size="5.4" fill="#262626">5nm</text>
<path d="M509.3 33.6H519.4" stroke="#3f7df5" stroke-width="0.9"/>
<text x="522" y="35.5" font-size="5.4" fill="#262626">10nm</text>
</g>
<g font-family="'Liberation Serif', serif" font-size="9.7" fill="#111" text-anchor="middle">
<text x="85.6" y="140.3">(<tspan font-weight="bold">A</tspan>)</text>
<text x="275.2" y="140.3">(<tspan font-weight="bold">B</tspan>)</text>
<text x="467.5" y="140.3">(<tspan font-weight="bold">C</tspan>)</text>
<text x="85.6" y="306.1">(<tspan font-weight="bold">D</tspan>)</text>
<text x="275.2" y="306.1">(<tspan font-weight="bold">E</tspan>)</text>
<text x="467.5" y="306.1">(<tspan font-weight="bold">F</tspan>)</text>
<text x="85.6" y="472">(<tspan font-weight="bold">G</tspan>)</text>
<text x="275.2" y="472">(<tspan font-weight="bold">H</tspan>)</text>
<text x="467.5" y="472">(<tspan font-weight="bold">I</tspan>)</text>
<text x="85.6" y="645">(<tspan font-weight="bold">J</tspan>)</text>
<text x="275.2" y="645">(<tspan font-weight="bold">K</tspan>)</text>
<text x="467.5" y="645">(<tspan font-weight="bold">L</tspan>)</text>
</g>
<g clip-path="url(#p1c)"><g transform="translate(74.7 221) scale(1.000 0.985)">
<clipPath id="p1n"><circle r="46"/></clipPath>
<g clip-path="url(#p1n)" opacity="0.32"><rect x="-60" y="-60" width="120" height="120" filter="url(#nzd)"/><rect x="-60" y="-60" width="120" height="120" filter="url(#nz)"/></g>
<circle r="46" fill="none" stroke="#2a2af0" stroke-width="1.0" stroke-dasharray="1.1 1.7" opacity="0.8" filter="url(#b5)"/>
<circle r="46" fill="none" stroke="url(#g1)" stroke-width="1.2" stroke-dasharray="1.3 1.5" filter="url(#b5)"/>
<circle r="37" fill="none" stroke="#3a66f2" stroke-width="1.1" stroke-dasharray="2.3 1.7" opacity="0.9" filter="url(#b5)"/>
<circle r="37" fill="none" stroke="url(#g2)" stroke-width="1.2" stroke-dasharray="1.3 1.5" filter="url(#b5)"/>
<circle r="22.5" fill="none" stroke="#2a2af0" stroke-width="1.0" stroke-dasharray="1.1 1.7" opacity="0.8" filter="url(#b5)"/>
<path d="M0 -54V54M-52 0H52" stroke="#3a20d0" stroke-width="0.7" stroke-dasharray="1 2.2" opacity="0.35" filter="url(#b5)"/>
<circle r="1.3" fill="#3050e0" filter="url(#b5)"/>
</g></g>
<path d="M31.38 193.34L37.36 197.53" stroke="#ffc20a" stroke-width="1.35"/>
<path d="M41.2 200.24L35.86 199.66L38.85 195.41Z" fill="#ffc20a"/>
<path d="M54.62 209.66L48.64 205.47" stroke="#ffc20a" stroke-width="1.35"/>
<path d="M44.8 202.76L47.15 207.59L50.14 203.34Z" fill="#ffc20a"/>
<path d="M40.16 204.72L45.84 198.28" stroke="#eda418" stroke-width="0.9"/>
<rect x="133.8" y="157.5" width="11.8" height="122" fill="url(#cb)"/>
<g font-family="'Liberation Sans', sans-serif" font-size="8" font-weight="bold" font-style="italic" fill="#f4f4f4">
<text x="147.3" y="282.15" textLength="14.1" lengthAdjust="spacingAndGlyphs">0.00</text>
<text x="147.3" y="269.82" textLength="14.1" lengthAdjust="spacingAndGlyphs">10.0</text>
<text x="147.3" y="257.49" textLength="14.1" lengthAdjust="spacingAndGlyphs">20.0</text>
<text x="147.3" y="245.16" textLength="14.1" lengthAdjust="spacingAndGlyphs">30.0</text>
<text x="147.3" y="232.83" textLength="14.1" lengthAdjust="spacingAndGlyphs">40.0</text>
<text x="147.3" y="220.5" textLength="14.1" lengthAdjust="spacingAndGlyphs">50.0</text>
<text x="147.3" y="208.17" textLength="14.1" lengthAdjust="spacingAndGlyphs">60.0</text>
<text x="147.3" y="195.84" textLength="14.1" lengthAdjust="spacingAndGlyphs">70.0</text>
<text x="147.3" y="183.51" textLength="14.1" lengthAdjust="spacingAndGlyphs">80.0</text>
<text x="147.3" y="171.18" textLength="14.1" lengthAdjust="spacingAndGlyphs">90.0</text>
<text x="147.3" y="158.85" textLength="14.1" lengthAdjust="spacingAndGlyphs">100.</text>
</g>
<text x="33.6" y="154.6" font-family="'Liberation Serif', serif" font-size="13.5" fill="#e8e8e8" textLength="85.3" lengthAdjust="spacingAndGlyphs">IO Core 30 nm</text>
<text x="47" y="291.6" font-family="'Liberation Serif', serif" font-size="12" fill="#e4e4e4" textLength="58.3" lengthAdjust="spacingAndGlyphs"><tspan font-style="italic" font-weight="bold">λ</tspan> = 580 nm</text>
<g clip-path="url(#p2c)"><g transform="translate(262.1 221) scale(1.000 0.958)">
<clipPath id="p2n"><circle r="46.7"/></clipPath>
<g clip-path="url(#p2n)" opacity="0.32"><rect x="-60" y="-60" width="120" height="120" filter="url(#nzd)"/><rect x="-60" y="-60" width="120" height="120" filter="url(#nz)"/></g>
<circle r="46.7" fill="none" stroke="#2a2af0" stroke-width="1.0" stroke-dasharray="1.1 1.7" opacity="0.8" filter="url(#b5)"/>
<circle r="46.7" fill="none" stroke="url(#g3)" stroke-width="1.2" stroke-dasharray="1.3 1.5" filter="url(#b5)"/>
<circle r="39" fill="none" stroke="#3a66f2" stroke-width="1.1" stroke-dasharray="2.3 1.7" opacity="0.9" filter="url(#b5)"/>
<circle r="39" fill="none" stroke="url(#g4)" stroke-width="1.2" stroke-dasharray="1.3 1.5" filter="url(#b5)"/>
<circle r="24.8" fill="none" stroke="#2a2af0" stroke-width="1.0" stroke-dasharray="1.1 1.7" opacity="0.7" filter="url(#b5)"/>
<path d="M0 -54.7V54.7M-52.7 0H52.7" stroke="#3a20d0" stroke-width="0.7" stroke-dasharray="1 2.2" opacity="0.6" filter="url(#b5)"/>
<circle r="1.3" fill="#3050e0" filter="url(#b5)"/>
</g></g>
<path d="M216.58 193.14L222.56 197.33" stroke="#ffc20a" stroke-width="1.35"/>
<path d="M226.4 200.04L221.06 199.46L224.05 195.21Z" fill="#ffc20a"/>
<path d="M239.82 209.47L233.84 205.27" stroke="#ffc20a" stroke-width="1.35"/>
<path d="M230 202.56L232.35 207.39L235.34 203.14Z" fill="#ffc20a"/>
<path d="M225.36 204.53L231.04 198.08" stroke="#eda418" stroke-width="0.9"/>
<rect x="321.8" y="158" width="12" height="122" fill="url(#cb)"/>
<g font-family="'Liberation Sans', sans-serif" font-size="8" font-weight="bold" font-style="italic" fill="#f4f4f4">
<text x="335.2" y="283.15" textLength="14.4" lengthAdjust="spacingAndGlyphs">0.00</text>
<text x="335.2" y="270.82" textLength="14.4" lengthAdjust="spacingAndGlyphs">10.0</text>
<text x="335.2" y="258.49" textLength="14.4" lengthAdjust="spacingAndGlyphs">20.0</text>
<text x="335.2" y="246.16" textLength="14.4" lengthAdjust="spacingAndGlyphs">30.0</text>
<text x="335.2" y="233.83" textLength="14.4" lengthAdjust="spacingAndGlyphs">40.0</text>
<text x="335.2" y="221.5" textLength="14.4" lengthAdjust="spacingAndGlyphs">50.0</text>
<text x="335.2" y="209.17" textLength="14.4" lengthAdjust="spacingAndGlyphs">60.0</text>
<text x="335.2" y="196.84" textLength="14.4" lengthAdjust="spacingAndGlyphs">70.0</text>
<text x="335.2" y="184.51" textLength="14.4" lengthAdjust="spacingAndGlyphs">80.0</text>
<text x="335.2" y="172.18" textLength="14.4" lengthAdjust="spacingAndGlyphs">90.0</text>
<text x="335.2" y="159.85" textLength="14.4" lengthAdjust="spacingAndGlyphs">100.</text>
</g>
<text x="220.1" y="156.5" font-family="'Liberation Serif', serif" font-size="13.5" fill="#e8e8e8" textLength="84.7" lengthAdjust="spacingAndGlyphs">IO Core 40 nm</text>
<text x="233.2" y="293.3" font-family="'Liberation Serif', serif" font-size="12" fill="#e4e4e4" textLength="57.7" lengthAdjust="spacingAndGlyphs"><tspan font-style="italic" font-weight="bold">λ</tspan> = 600 nm</text>
<g clip-path="url(#p3c)"><g transform="translate(455.5 221.7) scale(1.000 0.965)">
<clipPath id="p3n"><circle r="44.4"/></clipPath>
<g clip-path="url(#p3n)" opacity="0.32"><rect x="-60" y="-60" width="120" height="120" filter="url(#nzd)"/><rect x="-60" y="-60" width="120" height="120" filter="url(#nz)"/></g>
<circle r="44.4" fill="none" stroke="#2a2af0" stroke-width="1.0" stroke-dasharray="1.1 1.7" opacity="0.8" filter="url(#b5)"/>
<circle r="44.4" fill="none" stroke="url(#g5)" stroke-width="1.2" stroke-dasharray="1.3 1.5" filter="url(#b5)"/>
<circle r="39.5" fill="none" stroke="#3a66f2" stroke-width="1.1" stroke-dasharray="2.3 1.7" opacity="0.9" filter="url(#b5)"/>
<circle r="39.5" fill="none" stroke="url(#g6)" stroke-width="1.2" stroke-dasharray="1.3 1.5" filter="url(#b5)"/>
<circle r="29" fill="none" stroke="#2a2af0" stroke-width="1.0" stroke-dasharray="1.1 1.7" opacity="0.8" filter="url(#b5)"/>
<path d="M0 -52.4V52.4M-50.4 0H50.4" stroke="#3a20d0" stroke-width="0.7" stroke-dasharray="1 2.2" opacity="0.6" filter="url(#b5)"/>
<circle r="1.3" fill="#3050e0" filter="url(#b5)"/>
</g></g>
<path d="M411.38 191.34L417.36 195.53" stroke="#ffc20a" stroke-width="1.35"/>
<path d="M421.2 198.24L415.86 197.66L418.85 193.41Z" fill="#ffc20a"/>
<path d="M434.62 207.66L428.64 203.47" stroke="#ffc20a" stroke-width="1.35"/>
<path d="M424.8 200.76L427.15 205.59L430.14 201.34Z" fill="#ffc20a"/>
<path d="M420.16 202.72L425.84 196.28" stroke="#eda418" stroke-width="0.9"/>
<rect x="513.5" y="157.7" width="12" height="122" fill="url(#cb)"/>
<g font-family="'Liberation Sans', sans-serif" font-size="8" font-weight="bold" font-style="italic" fill="#f4f4f4">
<text x="526.6" y="282.35" textLength="14.4" lengthAdjust="spacingAndGlyphs">0.00</text>
<text x="526.6" y="270.02" textLength="14.4" lengthAdjust="spacingAndGlyphs">10.0</text>
<text x="526.6" y="257.69" textLength="14.4" lengthAdjust="spacingAndGlyphs">20.0</text>
<text x="526.6" y="245.36" textLength="14.4" lengthAdjust="spacingAndGlyphs">30.0</text>
<text x="526.6" y="233.03" textLength="14.4" lengthAdjust="spacingAndGlyphs">40.0</text>
<text x="526.6" y="220.7" textLength="14.4" lengthAdjust="spacingAndGlyphs">50.0</text>
<text x="526.6" y="208.37" textLength="14.4" lengthAdjust="spacingAndGlyphs">60.0</text>
<text x="526.6" y="196.04" textLength="14.4" lengthAdjust="spacingAndGlyphs">70.0</text>
<text x="526.6" y="183.71" textLength="14.4" lengthAdjust="spacingAndGlyphs">80.0</text>
<text x="526.6" y="171.38" textLength="14.4" lengthAdjust="spacingAndGlyphs">90.0</text>
<text x="526.6" y="159.05" textLength="14.4" lengthAdjust="spacingAndGlyphs">100.</text>
</g>
<text x="411.2" y="155.6" font-family="'Liberation Serif', serif" font-size="13.5" fill="#e8e8e8" textLength="84.6" lengthAdjust="spacingAndGlyphs">IO Core 60 nm</text>
<text x="427" y="292.7" font-family="'Liberation Serif', serif" font-size="12" fill="#e4e4e4" textLength="57.3" lengthAdjust="spacingAndGlyphs"><tspan font-style="italic" font-weight="bold">λ</tspan> = 660 nm</text>
<g clip-path="url(#p4c)"><g transform="translate(70.7 386.4) scale(1.030 0.975)">
<clipPath id="p4n"><circle r="47.8"/></clipPath>
<g clip-path="url(#p4n)" opacity="0.55"><rect x="-60" y="-60" width="120" height="120" filter="url(#nzd)"/><rect x="-60" y="-60" width="120" height="120" filter="url(#nz)"/></g>
<circle r="47.8" fill="none" stroke="#2060f0" stroke-width="1.3" stroke-dasharray="1.5 1.5" opacity="0.8" filter="url(#b5)"/>
<circle r="47.8" fill="none" stroke="url(#g7)" stroke-width="1.3" stroke-dasharray="1.3 1.5" filter="url(#b5)"/>
<circle r="35" fill="none" stroke="#18a0d0" stroke-width="2.0" filter="url(#b8)" opacity="0.8"/>
<circle r="35" fill="none" stroke="#80e070" stroke-width="1.2" stroke-dasharray="1.2 2.8" opacity="0.8" filter="url(#b5)"/>
<circle r="35" fill="none" stroke="#ffffe0" stroke-width="0.9" stroke-dasharray="0.8 7.2" opacity="0.8" filter="url(#b5)"/>
<circle r="32.2" fill="none" stroke="#20a0d0" stroke-width="0.9" stroke-dasharray="1.2 2" opacity="0.7" filter="url(#b5)"/>
<path d="M0 -55.8V55.8M-53.8 0H53.8" stroke="#3a20d0" stroke-width="0.7" stroke-dasharray="1 2.2" opacity="0.5" filter="url(#b5)"/>
<circle r="1.3" fill="#3050e0" filter="url(#b5)"/>
<circle r="1.2" fill="#c0c0ff" filter="url(#b5)"/>
</g></g>
<path d="M29.78 358.44L35.76 362.63" stroke="#ffc20a" stroke-width="1.35"/>
<path d="M39.6 365.34L34.26 364.76L37.25 360.51Z" fill="#ffc20a"/>
<path d="M53.02 374.77L47.04 370.57" stroke="#ffc20a" stroke-width="1.35"/>
<path d="M43.2 367.87L45.55 372.69L48.54 368.44Z" fill="#ffc20a"/>
<path d="M38.56 369.83L44.24 363.38" stroke="#eda418" stroke-width="0.9"/>
<rect x="132.9" y="323.3" width="12.6" height="121.2" fill="url(#cb)"/>
<g font-family="'Liberation Sans', sans-serif" font-size="8" font-weight="bold" font-style="italic" fill="#f4f4f4">
<text x="146.6" y="447.95" textLength="14.4" lengthAdjust="spacingAndGlyphs">0.00</text>
<text x="146.6" y="435.66" textLength="14.4" lengthAdjust="spacingAndGlyphs">10.0</text>
<text x="146.6" y="423.37" textLength="14.4" lengthAdjust="spacingAndGlyphs">20.0</text>
<text x="146.6" y="411.08" textLength="14.4" lengthAdjust="spacingAndGlyphs">30.0</text>
<text x="146.6" y="398.79" textLength="14.4" lengthAdjust="spacingAndGlyphs">40.0</text>
<text x="146.6" y="386.5" textLength="14.4" lengthAdjust="spacingAndGlyphs">50.0</text>
<text x="146.6" y="374.21" textLength="14.4" lengthAdjust="spacingAndGlyphs">60.0</text>
<text x="146.6" y="361.92" textLength="14.4" lengthAdjust="spacingAndGlyphs">70.0</text>
<text x="146.6" y="349.63" textLength="14.4" lengthAdjust="spacingAndGlyphs">80.0</text>
<text x="146.6" y="337.34" textLength="14.4" lengthAdjust="spacingAndGlyphs">90.0</text>
<text x="146.6" y="325.05" textLength="14.4" lengthAdjust="spacingAndGlyphs">100.</text>
</g>
<text x="18.4" y="320" font-family="'Liberation Serif', serif" font-size="13.5" fill="#e8e8e8" textLength="102.7" lengthAdjust="spacingAndGlyphs">1<tspan font-size="9" dy="-4.3">st</tspan><tspan dy="4.3"> Au Shell 1 nm</tspan></text>
<text x="41.8" y="457.5" font-family="'Liberation Serif', serif" font-size="12" fill="#e4e4e4" textLength="61.2" lengthAdjust="spacingAndGlyphs"><tspan font-style="italic" font-weight="bold">λ</tspan> = 700 nm</text>
<g clip-path="url(#p5c)"><g transform="translate(263.2 389.8) scale(1.000 1.000)">
<clipPath id="p5n"><circle r="45"/></clipPath>
<g clip-path="url(#p5n)" opacity="0.32"><rect x="-60" y="-60" width="120" height="120" filter="url(#nzd)"/><rect x="-60" y="-60" width="120" height="120" filter="url(#nz)"/></g>
<circle r="45" fill="none" stroke="#2a2af0" stroke-width="1.0" stroke-dasharray="1.1 1.7" opacity="0.8" filter="url(#b5)"/>
<circle r="45" fill="none" stroke="url(#g8)" stroke-width="1.2" stroke-dasharray="1.3 1.5" filter="url(#b5)"/>
<circle r="36" fill="none" stroke="#3a66f2" stroke-width="1.1" stroke-dasharray="2.3 1.7" opacity="0.9" filter="url(#b5)"/>
<circle r="36" fill="none" stroke="url(#g9)" stroke-width="1.2" stroke-dasharray="1.3 1.5" filter="url(#b5)"/>
<circle r="27.5" fill="none" stroke="#2838e8" stroke-width="1.0" stroke-dasharray="1.1 1.7" opacity="0.8" filter="url(#b5)"/>
<path d="M0 -53V53M-51 0H51" stroke="#3a20d0" stroke-width="0.7" stroke-dasharray="1 2.2" opacity="0.6" filter="url(#b5)"/>
<circle r="1.3" fill="#3050e0" filter="url(#b5)"/>
</g></g>
<path d="M224.28 359.23L230.26 363.43" stroke="#ffc20a" stroke-width="1.35"/>
<path d="M234.1 366.13L228.76 365.56L231.75 361.31Z" fill="#ffc20a"/>
<path d="M247.52 375.56L241.54 371.37" stroke="#ffc20a" stroke-width="1.35"/>
<path d="M237.7 368.66L240.05 373.49L243.04 369.24Z" fill="#ffc20a"/>
<path d="M233.06 370.62L238.74 364.17" stroke="#eda418" stroke-width="0.9"/>
<rect x="320.2" y="324.4" width="12" height="121.2" fill="url(#cb)"/>
<g font-family="'Liberation Sans', sans-serif" font-size="8" font-weight="bold" font-style="italic" fill="#f4f4f4">
<text x="333.4" y="449.15" textLength="14.6" lengthAdjust="spacingAndGlyphs">0.00</text>
<text x="333.4" y="436.86" textLength="14.6" lengthAdjust="spacingAndGlyphs">10.0</text>
<text x="333.4" y="424.57" textLength="14.6" lengthAdjust="spacingAndGlyphs">20.0</text>
<text x="333.4" y="412.28" textLength="14.6" lengthAdjust="spacingAndGlyphs">30.0</text>
<text x="333.4" y="399.99" textLength="14.6" lengthAdjust="spacingAndGlyphs">40.0</text>
<text x="333.4" y="387.7" textLength="14.6" lengthAdjust="spacingAndGlyphs">50.0</text>
<text x="333.4" y="375.41" textLength="14.6" lengthAdjust="spacingAndGlyphs">60.0</text>
<text x="333.4" y="363.12" textLength="14.6" lengthAdjust="spacingAndGlyphs">70.0</text>
<text x="333.4" y="350.83" textLength="14.6" lengthAdjust="spacingAndGlyphs">80.0</text>
<text x="333.4" y="338.54" textLength="14.6" lengthAdjust="spacingAndGlyphs">90.0</text>
<text x="333.4" y="326.25" textLength="14.6" lengthAdjust="spacingAndGlyphs">100.</text>
</g>
<text x="211.1" y="321.9" font-family="'Liberation Serif', serif" font-size="13.5" fill="#e8e8e8" textLength="98.7" lengthAdjust="spacingAndGlyphs">1<tspan font-size="9" dy="-4.3">st</tspan><tspan dy="4.3"> Au Shell 5 nm</tspan></text>
<text x="230.8" y="458" font-family="'Liberation Serif', serif" font-size="12" fill="#e4e4e4" textLength="58.9" lengthAdjust="spacingAndGlyphs"><tspan font-style="italic" font-weight="bold">λ</tspan> = 630 nm</text>
<g clip-path="url(#p6c)"><g transform="translate(456.8 390.3) scale(1.000 1.000)">
<clipPath id="p6n"><circle r="44.4"/></clipPath>
<g clip-path="url(#p6n)" opacity="0.32"><rect x="-60" y="-60" width="120" height="120" filter="url(#nzd)"/><rect x="-60" y="-60" width="120" height="120" filter="url(#nz)"/></g>
<circle r="44.4" fill="none" stroke="#2a2af0" stroke-width="1.0" stroke-dasharray="1.1 1.7" opacity="0.8" filter="url(#b5)"/>
<circle r="44.4" fill="none" stroke="url(#g10)" stroke-width="1.2" stroke-dasharray="1.3 1.5" filter="url(#b5)"/>
<circle r="36.3" fill="none" stroke="#3a66f2" stroke-width="1.1" stroke-dasharray="2.3 1.7" opacity="0.9" filter="url(#b5)"/>
<circle r="36.3" fill="none" stroke="url(#g11)" stroke-width="1.2" stroke-dasharray="1.3 1.5" filter="url(#b5)"/>
<circle r="22.5" fill="none" stroke="#2a2ae6" stroke-width="1.0" stroke-dasharray="1.1 1.7" opacity="0.8" filter="url(#b5)"/>
<path d="M0 -52.4V52.4M-50.4 0H50.4" stroke="#3a20d0" stroke-width="0.7" stroke-dasharray="1 2.2" opacity="0.6" filter="url(#b5)"/>
<circle r="1.3" fill="#3050e0" filter="url(#b5)"/>
</g></g>
<path d="M415.08 361.83L421.06 366.03" stroke="#ffc20a" stroke-width="1.35"/>
<path d="M424.9 368.74L419.56 368.16L422.55 363.91Z" fill="#ffc20a"/>
<path d="M438.32 378.17L432.34 373.97" stroke="#ffc20a" stroke-width="1.35"/>
<path d="M428.5 371.26L430.85 376.09L433.84 371.84Z" fill="#ffc20a"/>
<path d="M423.86 373.23L429.54 366.77" stroke="#eda418" stroke-width="0.9"/>
<rect x="513.8" y="323.3" width="11.7" height="121.2" fill="url(#cb)"/>
<g font-family="'Liberation Sans', sans-serif" font-size="8" font-weight="bold" font-style="italic" fill="#f4f4f4">
<text x="526.6" y="448.25" textLength="14.4" lengthAdjust="spacingAndGlyphs">0.00</text>
<text x="526.6" y="435.96" textLength="14.4" lengthAdjust="spacingAndGlyphs">10.0</text>
<text x="526.6" y="423.67" textLength="14.4" lengthAdjust="spacingAndGlyphs">20.0</text>
<text x="526.6" y="411.38" textLength="14.4" lengthAdjust="spacingAndGlyphs">30.0</text>
<text x="526.6" y="399.09" textLength="14.4" lengthAdjust="spacingAndGlyphs">40.0</text>
<text x="526.6" y="386.8" textLength="14.4" lengthAdjust="spacingAndGlyphs">50.0</text>
<text x="526.6" y="374.51" textLength="14.4" lengthAdjust="spacingAndGlyphs">60.0</text>
<text x="526.6" y="362.22" textLength="14.4" lengthAdjust="spacingAndGlyphs">70.0</text>
<text x="526.6" y="349.93" textLength="14.4" lengthAdjust="spacingAndGlyphs">80.0</text>
<text x="526.6" y="337.64" textLength="14.4" lengthAdjust="spacingAndGlyphs">90.0</text>
<text x="526.6" y="325.35" textLength="14.4" lengthAdjust="spacingAndGlyphs">100.</text>
</g>
<text x="401.8" y="322.7" font-family="'Liberation Serif', serif" font-size="13.5" fill="#e8e8e8" textLength="111.4" lengthAdjust="spacingAndGlyphs">1<tspan font-size="9" dy="-4.3">st</tspan><tspan dy="4.3"> Au Shell 10 nm*</tspan></text>
<text x="426.2" y="457.5" font-family="'Liberation Serif', serif" font-size="12" fill="#e4e4e4" textLength="59.2" lengthAdjust="spacingAndGlyphs"><tspan font-style="italic" font-weight="bold">λ</tspan> = 590 nm</text>
<g clip-path="url(#p7c)"><g transform="translate(69.6 555.9) scale(1.020 0.985)">
<clipPath id="p7n"><circle r="46"/></clipPath>
<g clip-path="url(#p7n)" opacity="0.32"><rect x="-60" y="-60" width="120" height="120" filter="url(#nzd)"/><rect x="-60" y="-60" width="120" height="120" filter="url(#nz)"/></g>
<circle r="45.9" fill="none" stroke="#2848f0" stroke-width="1.3" stroke-dasharray="1.1 1.7" opacity="0.8" filter="url(#b5)"/>
<circle r="45.9" fill="none" stroke="url(#g12)" stroke-width="1.4" stroke-dasharray="1.3 1.5" filter="url(#b5)"/>
<circle r="45.9" fill="none" stroke="url(#g13)" stroke-width="1.2" stroke-dasharray="1 2" filter="url(#b5)"/>
<circle r="43.3" fill="none" stroke="#3030d0" stroke-width="0.8" stroke-dasharray="1.1 1.7" opacity="0.6" filter="url(#b5)"/>
<circle r="27.7" fill="none" stroke="#2838ee" stroke-width="1.2" stroke-dasharray="1.1 1.7" opacity="0.8" filter="url(#b5)"/>
<path d="M0 -53.9V53.9M-51.9 0H51.9" stroke="#3a20d0" stroke-width="0.7" stroke-dasharray="1 2.2" opacity="0.7" filter="url(#b5)"/>
<circle r="1.3" fill="#3050e0" filter="url(#b5)"/>
</g></g>
<path d="M19.58 524.74L25.56 528.93" stroke="#ffc20a" stroke-width="1.35"/>
<path d="M29.4 531.63L24.06 531.06L27.05 526.81Z" fill="#ffc20a"/>
<path d="M42.82 541.06L36.84 536.87" stroke="#ffc20a" stroke-width="1.35"/>
<path d="M33 534.16L35.35 538.99L38.34 534.74Z" fill="#ffc20a"/>
<path d="M28.36 536.12L34.04 529.67" stroke="#eda418" stroke-width="0.9"/>
<rect x="132.3" y="492.7" width="12.3" height="120.3" fill="url(#cb)"/>
<g font-family="'Liberation Sans', sans-serif" font-size="8" font-weight="bold" font-style="italic" fill="#f4f4f4">
<text x="146.7" y="616.95" textLength="14.3" lengthAdjust="spacingAndGlyphs">0.00</text>
<text x="146.7" y="604.71" textLength="14.3" lengthAdjust="spacingAndGlyphs">10.0</text>
<text x="146.7" y="592.47" textLength="14.3" lengthAdjust="spacingAndGlyphs">20.0</text>
<text x="146.7" y="580.23" textLength="14.3" lengthAdjust="spacingAndGlyphs">30.0</text>
<text x="146.7" y="567.99" textLength="14.3" lengthAdjust="spacingAndGlyphs">40.0</text>
<text x="146.7" y="555.75" textLength="14.3" lengthAdjust="spacingAndGlyphs">50.0</text>
<text x="146.7" y="543.51" textLength="14.3" lengthAdjust="spacingAndGlyphs">60.0</text>
<text x="146.7" y="531.27" textLength="14.3" lengthAdjust="spacingAndGlyphs">70.0</text>
<text x="146.7" y="519.03" textLength="14.3" lengthAdjust="spacingAndGlyphs">80.0</text>
<text x="146.7" y="506.79" textLength="14.3" lengthAdjust="spacingAndGlyphs">90.0</text>
<text x="146.7" y="494.55" textLength="14.3" lengthAdjust="spacingAndGlyphs">100.</text>
</g>
<text x="16.7" y="488.6" font-family="'Liberation Serif', serif" font-size="13.5" fill="#e8e8e8" textLength="106.1" lengthAdjust="spacingAndGlyphs">2<tspan font-size="9" dy="-4.3">nd</tspan><tspan dy="4.3"> Au Shell 1 nm</tspan></text>
<text x="41.8" y="628.4" font-family="'Liberation Serif', serif" font-size="12" fill="#e4e4e4" textLength="61.9" lengthAdjust="spacingAndGlyphs"><tspan font-style="italic" font-weight="bold">λ</tspan> = 620 nm</text>
<g clip-path="url(#p8c)"><g transform="translate(262.9 557.2) scale(1.025 0.978)">
<clipPath id="p8n"><circle r="44.7"/></clipPath>
<g clip-path="url(#p8n)" opacity="0.32"><rect x="-60" y="-60" width="120" height="120" filter="url(#nzd)"/><rect x="-60" y="-60" width="120" height="120" filter="url(#nz)"/></g>
<circle r="44.7" fill="none" stroke="#2a2af0" stroke-width="1.0" stroke-dasharray="1.1 1.7" opacity="0.8" filter="url(#b5)"/>
<circle r="44.7" fill="none" stroke="url(#g14)" stroke-width="1.2" stroke-dasharray="1.3 1.5" filter="url(#b5)"/>
<circle r="36.5" fill="none" stroke="#3a66f2" stroke-width="1.1" stroke-dasharray="2.3 1.7" opacity="0.9" filter="url(#b5)"/>
<circle r="36.5" fill="none" stroke="url(#g15)" stroke-width="1.2" stroke-dasharray="1.3 1.5" filter="url(#b5)"/>
<circle r="22.8" fill="none" stroke="#2a2ae6" stroke-width="1.0" stroke-dasharray="1.1 1.7" opacity="0.8" filter="url(#b5)"/>
<path d="M0 -52.7V52.7M-50.7 0H50.7" stroke="#3a20d0" stroke-width="0.7" stroke-dasharray="1 2.2" opacity="0.5" filter="url(#b5)"/>
<circle r="1.3" fill="#3050e0" filter="url(#b5)"/>
</g></g>
<path d="M221.78 527.34L227.76 531.53" stroke="#ffc20a" stroke-width="1.35"/>
<path d="M231.6 534.24L226.26 533.66L229.25 529.41Z" fill="#ffc20a"/>
<path d="M245.02 543.66L239.04 539.47" stroke="#ffc20a" stroke-width="1.35"/>
<path d="M235.2 536.76L237.55 541.59L240.54 537.34Z" fill="#ffc20a"/>
<path d="M230.56 538.73L236.24 532.27" stroke="#eda418" stroke-width="0.9"/>
<rect x="320.2" y="490.8" width="12.3" height="120.6" fill="url(#cb)"/>
<g font-family="'Liberation Sans', sans-serif" font-size="8" font-weight="bold" font-style="italic" fill="#f4f4f4">
<text x="333.5" y="615.65" textLength="14.5" lengthAdjust="spacingAndGlyphs">0.00</text>
<text x="333.5" y="603.37" textLength="14.5" lengthAdjust="spacingAndGlyphs">10.0</text>
<text x="333.5" y="591.09" textLength="14.5" lengthAdjust="spacingAndGlyphs">20.0</text>
<text x="333.5" y="578.81" textLength="14.5" lengthAdjust="spacingAndGlyphs">30.0</text>
<text x="333.5" y="566.53" textLength="14.5" lengthAdjust="spacingAndGlyphs">40.0</text>
<text x="333.5" y="554.25" textLength="14.5" lengthAdjust="spacingAndGlyphs">50.0</text>
<text x="333.5" y="541.97" textLength="14.5" lengthAdjust="spacingAndGlyphs">60.0</text>
<text x="333.5" y="529.69" textLength="14.5" lengthAdjust="spacingAndGlyphs">70.0</text>
<text x="333.5" y="517.41" textLength="14.5" lengthAdjust="spacingAndGlyphs">80.0</text>
<text x="333.5" y="505.13" textLength="14.5" lengthAdjust="spacingAndGlyphs">90.0</text>
<text x="333.5" y="492.85" textLength="14.5" lengthAdjust="spacingAndGlyphs">100.</text>
</g>
<text x="206" y="488.1" font-family="'Liberation Serif', serif" font-size="13.5" fill="#e8e8e8" textLength="111.1" lengthAdjust="spacingAndGlyphs">2<tspan font-size="9" dy="-4.3">nd</tspan><tspan dy="4.3"> Au Shell 5 nm*</tspan></text>
<text x="230.1" y="627.4" font-family="'Liberation Serif', serif" font-size="12" fill="#e4e4e4" textLength="60.3" lengthAdjust="spacingAndGlyphs"><tspan font-style="italic" font-weight="bold">λ</tspan> = 590 nm</text>
<g clip-path="url(#p9c)"><g transform="translate(452.1 557) scale(1.020 0.980)">
<clipPath id="p9n"><circle r="46"/></clipPath>
<g clip-path="url(#p9n)" opacity="0.32"><rect x="-60" y="-60" width="120" height="120" filter="url(#nzd)"/><rect x="-60" y="-60" width="120" height="120" filter="url(#nz)"/></g>
<circle r="46" fill="none" stroke="#2a2af0" stroke-width="1.0" stroke-dasharray="1.1 1.7" opacity="0.7" filter="url(#b5)"/>
<circle r="46" fill="none" stroke="url(#g16)" stroke-width="1.2" stroke-dasharray="1.3 1.5" filter="url(#b5)"/>
<circle r="33.5" fill="none" stroke="#3a66f2" stroke-width="1.1" stroke-dasharray="2.3 1.7" opacity="0.9" filter="url(#b5)"/>
<circle r="33.5" fill="none" stroke="url(#g17)" stroke-width="1.2" stroke-dasharray="1.3 1.5" filter="url(#b5)"/>
<circle r="21" fill="none" stroke="#2a2ae6" stroke-width="1.0" stroke-dasharray="1.1 1.7" opacity="0.8" filter="url(#b5)"/>
<path d="M0 -54V54M-52 0H52" stroke="#3a20d0" stroke-width="0.7" stroke-dasharray="1 2.2" opacity="0.5" filter="url(#b5)"/>
<circle r="1.3" fill="#3050e0" filter="url(#b5)"/>
</g></g>
<path d="M413.48 530.84L419.46 535.03" stroke="#ffc20a" stroke-width="1.35"/>
<path d="M423.3 537.74L417.96 537.16L420.95 532.91Z" fill="#ffc20a"/>
<path d="M436.72 547.16L430.74 542.97" stroke="#ffc20a" stroke-width="1.35"/>
<path d="M426.9 540.26L429.25 545.09L432.24 540.84Z" fill="#ffc20a"/>
<path d="M422.26 542.23L427.94 535.77" stroke="#eda418" stroke-width="0.9"/>
<rect x="513.1" y="492.5" width="12" height="120.7" fill="url(#cb)"/>
<g font-family="'Liberation Sans', sans-serif" font-size="8" font-weight="bold" font-style="italic" fill="#f4f4f4">
<text x="526.6" y="617.25" textLength="14.4" lengthAdjust="spacingAndGlyphs">0.00</text>
<text x="526.6" y="604.98" textLength="14.4" lengthAdjust="spacingAndGlyphs">10.0</text>
<text x="526.6" y="592.71" textLength="14.4" lengthAdjust="spacingAndGlyphs">20.0</text>
<text x="526.6" y="580.44" textLength="14.4" lengthAdjust="spacingAndGlyphs">30.0</text>
<text x="526.6" y="568.17" textLength="14.4" lengthAdjust="spacingAndGlyphs">40.0</text>
<text x="526.6" y="555.9" textLength="14.4" lengthAdjust="spacingAndGlyphs">50.0</text>
<text x="526.6" y="543.63" textLength="14.4" lengthAdjust="spacingAndGlyphs">60.0</text>
<text x="526.6" y="531.36" textLength="14.4" lengthAdjust="spacingAndGlyphs">70.0</text>
<text x="526.6" y="519.09" textLength="14.4" lengthAdjust="spacingAndGlyphs">80.0</text>
<text x="526.6" y="506.82" textLength="14.4" lengthAdjust="spacingAndGlyphs">90.0</text>
<text x="526.6" y="494.55" textLength="14.4" lengthAdjust="spacingAndGlyphs">100.</text>
</g>
<text x="397.8" y="490" font-family="'Liberation Serif', serif" font-size="13.5" fill="#e8e8e8" textLength="113.1" lengthAdjust="spacingAndGlyphs">2<tspan font-size="9" dy="-4.3">nd</tspan><tspan dy="4.3"> Au Shell 10 nm</tspan></text>
<text x="423.5" y="628.4" font-family="'Liberation Serif', serif" font-size="12" fill="#e4e4e4" textLength="60.6" lengthAdjust="spacingAndGlyphs"><tspan font-style="italic" font-weight="bold">λ</tspan> = 570 nm</text>
</svg>
</div>
</body></html>
